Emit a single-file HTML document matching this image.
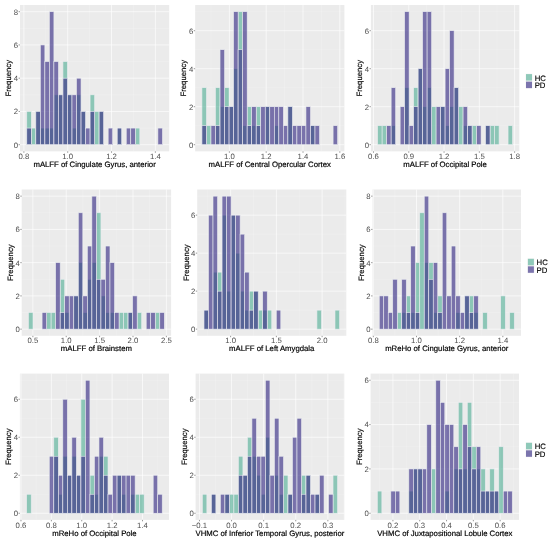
<!DOCTYPE html>
<html><head><meta charset="utf-8"><style>
html,body{margin:0;padding:0;background:#fff;}
svg{display:block;}
#w{width:550px;height:543px;}
text{font-family:"Liberation Sans",Arial,sans-serif;text-rendering:geometricPrecision;}
.tl{font-size:7.75px;fill:#4d4d4d;}
.tt{font-size:7.75px;fill:#000000;stroke:#000000;stroke-width:0.18px;}
.lg{font-size:7.75px;fill:#000;stroke:#000;stroke-width:0.15px;}
</style></head><body><div id="w">
<svg width="550" height="543" viewBox="0 0 550 543">
<rect width="550" height="543" fill="#fff"/>
<g>
<rect x="20" y="5.05" width="149.2" height="146.3" fill="#ebebeb"/>
<line x1="45.79" y1="5.05" x2="45.79" y2="151.35" stroke="#ffffff" stroke-width="0.3" stroke-opacity="0.6"/>
<line x1="89.62" y1="5.05" x2="89.62" y2="151.35" stroke="#ffffff" stroke-width="0.3" stroke-opacity="0.6"/>
<line x1="133.45" y1="5.05" x2="133.45" y2="151.35" stroke="#ffffff" stroke-width="0.3" stroke-opacity="0.6"/>
<line x1="20" y1="128.07" x2="169.2" y2="128.07" stroke="#ffffff" stroke-width="0.3" stroke-opacity="0.6"/>
<line x1="20" y1="94.83" x2="169.2" y2="94.83" stroke="#ffffff" stroke-width="0.3" stroke-opacity="0.6"/>
<line x1="20" y1="61.58" x2="169.2" y2="61.58" stroke="#ffffff" stroke-width="0.3" stroke-opacity="0.6"/>
<line x1="20" y1="28.33" x2="169.2" y2="28.33" stroke="#ffffff" stroke-width="0.3" stroke-opacity="0.6"/>
<line x1="20" y1="144.7" x2="169.2" y2="144.7" stroke="#ffffff" stroke-width="0.65"/>
<line x1="20" y1="111.45" x2="169.2" y2="111.45" stroke="#ffffff" stroke-width="0.65"/>
<line x1="20" y1="78.2" x2="169.2" y2="78.2" stroke="#ffffff" stroke-width="0.65"/>
<line x1="20" y1="44.95" x2="169.2" y2="44.95" stroke="#ffffff" stroke-width="0.65"/>
<line x1="20" y1="11.7" x2="169.2" y2="11.7" stroke="#ffffff" stroke-width="0.65"/>
<line x1="23.88" y1="5.05" x2="23.88" y2="151.35" stroke="#ffffff" stroke-width="0.65"/>
<line x1="67.71" y1="5.05" x2="67.71" y2="151.35" stroke="#ffffff" stroke-width="0.65"/>
<line x1="111.54" y1="5.05" x2="111.54" y2="151.35" stroke="#ffffff" stroke-width="0.65"/>
<line x1="155.37" y1="5.05" x2="155.37" y2="151.35" stroke="#ffffff" stroke-width="0.65"/>
<rect x="26.78" y="111.45" width="4.52" height="33.25" fill="#59b29a" fill-opacity="0.65" stroke="#e9ecef" stroke-width="0.6"/>
<rect x="31.3" y="128.07" width="4.52" height="16.62" fill="#59b29a" fill-opacity="0.65" stroke="#e9ecef" stroke-width="0.6"/>
<rect x="35.82" y="111.45" width="4.52" height="33.25" fill="#59b29a" fill-opacity="0.65" stroke="#e9ecef" stroke-width="0.6"/>
<rect x="40.35" y="128.07" width="4.52" height="16.62" fill="#59b29a" fill-opacity="0.65" stroke="#e9ecef" stroke-width="0.6"/>
<rect x="44.87" y="128.07" width="4.52" height="16.62" fill="#59b29a" fill-opacity="0.65" stroke="#e9ecef" stroke-width="0.6"/>
<rect x="49.39" y="128.07" width="4.52" height="16.62" fill="#59b29a" fill-opacity="0.65" stroke="#e9ecef" stroke-width="0.6"/>
<rect x="53.91" y="94.83" width="4.52" height="49.87" fill="#59b29a" fill-opacity="0.65" stroke="#e9ecef" stroke-width="0.6"/>
<rect x="58.43" y="94.83" width="4.52" height="49.87" fill="#59b29a" fill-opacity="0.65" stroke="#e9ecef" stroke-width="0.6"/>
<rect x="62.95" y="61.58" width="4.52" height="83.12" fill="#59b29a" fill-opacity="0.65" stroke="#e9ecef" stroke-width="0.6"/>
<rect x="67.47" y="94.83" width="4.52" height="49.87" fill="#59b29a" fill-opacity="0.65" stroke="#e9ecef" stroke-width="0.6"/>
<rect x="71.99" y="128.07" width="4.52" height="16.62" fill="#59b29a" fill-opacity="0.65" stroke="#e9ecef" stroke-width="0.6"/>
<rect x="76.52" y="94.83" width="4.52" height="49.87" fill="#59b29a" fill-opacity="0.65" stroke="#e9ecef" stroke-width="0.6"/>
<rect x="81.04" y="111.45" width="4.52" height="33.25" fill="#59b29a" fill-opacity="0.65" stroke="#e9ecef" stroke-width="0.6"/>
<rect x="90.08" y="94.83" width="4.52" height="49.87" fill="#59b29a" fill-opacity="0.65" stroke="#e9ecef" stroke-width="0.6"/>
<rect x="94.6" y="111.45" width="4.52" height="33.25" fill="#59b29a" fill-opacity="0.65" stroke="#e9ecef" stroke-width="0.6"/>
<rect x="99.12" y="111.45" width="4.52" height="33.25" fill="#59b29a" fill-opacity="0.65" stroke="#e9ecef" stroke-width="0.6"/>
<rect x="117.21" y="128.07" width="4.52" height="16.62" fill="#59b29a" fill-opacity="0.65" stroke="#e9ecef" stroke-width="0.6"/>
<rect x="135.29" y="128.07" width="4.52" height="16.62" fill="#59b29a" fill-opacity="0.65" stroke="#e9ecef" stroke-width="0.6"/>
<rect x="26.78" y="128.07" width="4.52" height="16.62" fill="#3a2f87" fill-opacity="0.65" stroke="#e9ecef" stroke-width="0.6"/>
<rect x="35.82" y="111.45" width="4.52" height="33.25" fill="#3a2f87" fill-opacity="0.65" stroke="#e9ecef" stroke-width="0.6"/>
<rect x="40.35" y="44.95" width="4.52" height="99.75" fill="#3a2f87" fill-opacity="0.65" stroke="#e9ecef" stroke-width="0.6"/>
<rect x="44.87" y="61.58" width="4.52" height="83.12" fill="#3a2f87" fill-opacity="0.65" stroke="#e9ecef" stroke-width="0.6"/>
<rect x="49.39" y="11.7" width="4.52" height="133" fill="#3a2f87" fill-opacity="0.65" stroke="#e9ecef" stroke-width="0.6"/>
<rect x="53.91" y="61.58" width="4.52" height="83.12" fill="#3a2f87" fill-opacity="0.65" stroke="#e9ecef" stroke-width="0.6"/>
<rect x="58.43" y="94.83" width="4.52" height="49.87" fill="#3a2f87" fill-opacity="0.65" stroke="#e9ecef" stroke-width="0.6"/>
<rect x="62.95" y="78.2" width="4.52" height="66.5" fill="#3a2f87" fill-opacity="0.65" stroke="#e9ecef" stroke-width="0.6"/>
<rect x="67.47" y="94.83" width="4.52" height="49.87" fill="#3a2f87" fill-opacity="0.65" stroke="#e9ecef" stroke-width="0.6"/>
<rect x="71.99" y="94.83" width="4.52" height="49.87" fill="#3a2f87" fill-opacity="0.65" stroke="#e9ecef" stroke-width="0.6"/>
<rect x="76.52" y="78.2" width="4.52" height="66.5" fill="#3a2f87" fill-opacity="0.65" stroke="#e9ecef" stroke-width="0.6"/>
<rect x="81.04" y="111.45" width="4.52" height="33.25" fill="#3a2f87" fill-opacity="0.65" stroke="#e9ecef" stroke-width="0.6"/>
<rect x="85.56" y="128.07" width="4.52" height="16.62" fill="#3a2f87" fill-opacity="0.65" stroke="#e9ecef" stroke-width="0.6"/>
<rect x="90.08" y="111.45" width="4.52" height="33.25" fill="#3a2f87" fill-opacity="0.65" stroke="#e9ecef" stroke-width="0.6"/>
<rect x="99.12" y="111.45" width="4.52" height="33.25" fill="#3a2f87" fill-opacity="0.65" stroke="#e9ecef" stroke-width="0.6"/>
<rect x="108.16" y="128.07" width="4.52" height="16.62" fill="#3a2f87" fill-opacity="0.65" stroke="#e9ecef" stroke-width="0.6"/>
<rect x="117.21" y="128.07" width="4.52" height="16.62" fill="#3a2f87" fill-opacity="0.65" stroke="#e9ecef" stroke-width="0.6"/>
<rect x="126.25" y="128.07" width="4.52" height="16.62" fill="#3a2f87" fill-opacity="0.65" stroke="#e9ecef" stroke-width="0.6"/>
<rect x="130.77" y="128.07" width="4.52" height="16.62" fill="#3a2f87" fill-opacity="0.65" stroke="#e9ecef" stroke-width="0.6"/>
<rect x="157.9" y="128.07" width="4.52" height="16.62" fill="#3a2f87" fill-opacity="0.65" stroke="#e9ecef" stroke-width="0.6"/>
<line x1="18.6" y1="144.7" x2="20" y2="144.7" stroke="#333333" stroke-width="0.5"/>
<text x="18.1" y="147.6" text-anchor="end" class="tl">0</text>
<line x1="18.6" y1="111.45" x2="20" y2="111.45" stroke="#333333" stroke-width="0.5"/>
<text x="18.1" y="114.35" text-anchor="end" class="tl">2</text>
<line x1="18.6" y1="78.2" x2="20" y2="78.2" stroke="#333333" stroke-width="0.5"/>
<text x="18.1" y="81.1" text-anchor="end" class="tl">4</text>
<line x1="18.6" y1="44.95" x2="20" y2="44.95" stroke="#333333" stroke-width="0.5"/>
<text x="18.1" y="47.85" text-anchor="end" class="tl">6</text>
<line x1="18.6" y1="11.7" x2="20" y2="11.7" stroke="#333333" stroke-width="0.5"/>
<text x="18.1" y="14.6" text-anchor="end" class="tl">8</text>
<line x1="23.88" y1="151.35" x2="23.88" y2="152.75" stroke="#333333" stroke-width="0.5"/>
<text x="23.88" y="158.8" text-anchor="middle" class="tl">0.8</text>
<line x1="67.71" y1="151.35" x2="67.71" y2="152.75" stroke="#333333" stroke-width="0.5"/>
<text x="67.71" y="158.8" text-anchor="middle" class="tl">1.0</text>
<line x1="111.54" y1="151.35" x2="111.54" y2="152.75" stroke="#333333" stroke-width="0.5"/>
<text x="111.54" y="158.8" text-anchor="middle" class="tl">1.2</text>
<line x1="155.37" y1="151.35" x2="155.37" y2="152.75" stroke="#333333" stroke-width="0.5"/>
<text x="155.37" y="158.8" text-anchor="middle" class="tl">1.4</text>
<text x="94.6" y="167.2" text-anchor="middle" class="tt">mALFF of Cingulate Gyrus, anterior</text>
<text transform="translate(11.3,78.2) rotate(-90)" text-anchor="middle" class="tt">Frequency</text>
</g>
<g>
<rect x="195.15" y="5.05" width="149.25" height="146.3" fill="#ebebeb"/>
<line x1="210.96" y1="5.05" x2="210.96" y2="151.35" stroke="#ffffff" stroke-width="0.3" stroke-opacity="0.6"/>
<line x1="247.78" y1="5.05" x2="247.78" y2="151.35" stroke="#ffffff" stroke-width="0.3" stroke-opacity="0.6"/>
<line x1="284.6" y1="5.05" x2="284.6" y2="151.35" stroke="#ffffff" stroke-width="0.3" stroke-opacity="0.6"/>
<line x1="321.42" y1="5.05" x2="321.42" y2="151.35" stroke="#ffffff" stroke-width="0.3" stroke-opacity="0.6"/>
<line x1="195.15" y1="125.7" x2="344.4" y2="125.7" stroke="#ffffff" stroke-width="0.3" stroke-opacity="0.6"/>
<line x1="195.15" y1="87.7" x2="344.4" y2="87.7" stroke="#ffffff" stroke-width="0.3" stroke-opacity="0.6"/>
<line x1="195.15" y1="49.7" x2="344.4" y2="49.7" stroke="#ffffff" stroke-width="0.3" stroke-opacity="0.6"/>
<line x1="195.15" y1="11.7" x2="344.4" y2="11.7" stroke="#ffffff" stroke-width="0.3" stroke-opacity="0.6"/>
<line x1="195.15" y1="144.7" x2="344.4" y2="144.7" stroke="#ffffff" stroke-width="0.65"/>
<line x1="195.15" y1="106.7" x2="344.4" y2="106.7" stroke="#ffffff" stroke-width="0.65"/>
<line x1="195.15" y1="68.7" x2="344.4" y2="68.7" stroke="#ffffff" stroke-width="0.65"/>
<line x1="195.15" y1="30.7" x2="344.4" y2="30.7" stroke="#ffffff" stroke-width="0.65"/>
<line x1="229.37" y1="5.05" x2="229.37" y2="151.35" stroke="#ffffff" stroke-width="0.65"/>
<line x1="266.19" y1="5.05" x2="266.19" y2="151.35" stroke="#ffffff" stroke-width="0.65"/>
<line x1="303.01" y1="5.05" x2="303.01" y2="151.35" stroke="#ffffff" stroke-width="0.65"/>
<line x1="339.83" y1="5.05" x2="339.83" y2="151.35" stroke="#ffffff" stroke-width="0.65"/>
<rect x="201.93" y="87.7" width="4.52" height="57" fill="#59b29a" fill-opacity="0.65" stroke="#e9ecef" stroke-width="0.6"/>
<rect x="206.46" y="125.7" width="4.52" height="19" fill="#59b29a" fill-opacity="0.65" stroke="#e9ecef" stroke-width="0.6"/>
<rect x="215.5" y="87.7" width="4.52" height="57" fill="#59b29a" fill-opacity="0.65" stroke="#e9ecef" stroke-width="0.6"/>
<rect x="220.03" y="106.7" width="4.52" height="38" fill="#59b29a" fill-opacity="0.65" stroke="#e9ecef" stroke-width="0.6"/>
<rect x="224.55" y="87.7" width="4.52" height="57" fill="#59b29a" fill-opacity="0.65" stroke="#e9ecef" stroke-width="0.6"/>
<rect x="229.07" y="106.7" width="4.52" height="38" fill="#59b29a" fill-opacity="0.65" stroke="#e9ecef" stroke-width="0.6"/>
<rect x="233.59" y="68.7" width="4.52" height="76" fill="#59b29a" fill-opacity="0.65" stroke="#e9ecef" stroke-width="0.6"/>
<rect x="238.12" y="11.7" width="4.52" height="133" fill="#59b29a" fill-opacity="0.65" stroke="#e9ecef" stroke-width="0.6"/>
<rect x="242.64" y="125.7" width="4.52" height="19" fill="#59b29a" fill-opacity="0.65" stroke="#e9ecef" stroke-width="0.6"/>
<rect x="247.16" y="106.7" width="4.52" height="38" fill="#59b29a" fill-opacity="0.65" stroke="#e9ecef" stroke-width="0.6"/>
<rect x="251.68" y="125.7" width="4.52" height="19" fill="#59b29a" fill-opacity="0.65" stroke="#e9ecef" stroke-width="0.6"/>
<rect x="256.21" y="106.7" width="4.52" height="38" fill="#59b29a" fill-opacity="0.65" stroke="#e9ecef" stroke-width="0.6"/>
<rect x="265.25" y="106.7" width="4.52" height="38" fill="#59b29a" fill-opacity="0.65" stroke="#e9ecef" stroke-width="0.6"/>
<rect x="274.3" y="125.7" width="4.52" height="19" fill="#59b29a" fill-opacity="0.65" stroke="#e9ecef" stroke-width="0.6"/>
<rect x="287.87" y="106.7" width="4.52" height="38" fill="#59b29a" fill-opacity="0.65" stroke="#e9ecef" stroke-width="0.6"/>
<rect x="310.48" y="125.7" width="4.52" height="19" fill="#59b29a" fill-opacity="0.65" stroke="#e9ecef" stroke-width="0.6"/>
<rect x="201.93" y="125.7" width="4.52" height="19" fill="#3a2f87" fill-opacity="0.65" stroke="#e9ecef" stroke-width="0.6"/>
<rect x="210.98" y="125.7" width="4.52" height="19" fill="#3a2f87" fill-opacity="0.65" stroke="#e9ecef" stroke-width="0.6"/>
<rect x="215.5" y="125.7" width="4.52" height="19" fill="#3a2f87" fill-opacity="0.65" stroke="#e9ecef" stroke-width="0.6"/>
<rect x="220.03" y="49.7" width="4.52" height="95" fill="#3a2f87" fill-opacity="0.65" stroke="#e9ecef" stroke-width="0.6"/>
<rect x="224.55" y="106.7" width="4.52" height="38" fill="#3a2f87" fill-opacity="0.65" stroke="#e9ecef" stroke-width="0.6"/>
<rect x="229.07" y="106.7" width="4.52" height="38" fill="#3a2f87" fill-opacity="0.65" stroke="#e9ecef" stroke-width="0.6"/>
<rect x="233.59" y="11.7" width="4.52" height="133" fill="#3a2f87" fill-opacity="0.65" stroke="#e9ecef" stroke-width="0.6"/>
<rect x="238.12" y="49.7" width="4.52" height="95" fill="#3a2f87" fill-opacity="0.65" stroke="#e9ecef" stroke-width="0.6"/>
<rect x="242.64" y="11.7" width="4.52" height="133" fill="#3a2f87" fill-opacity="0.65" stroke="#e9ecef" stroke-width="0.6"/>
<rect x="247.16" y="125.7" width="4.52" height="19" fill="#3a2f87" fill-opacity="0.65" stroke="#e9ecef" stroke-width="0.6"/>
<rect x="251.68" y="106.7" width="4.52" height="38" fill="#3a2f87" fill-opacity="0.65" stroke="#e9ecef" stroke-width="0.6"/>
<rect x="256.21" y="125.7" width="4.52" height="19" fill="#3a2f87" fill-opacity="0.65" stroke="#e9ecef" stroke-width="0.6"/>
<rect x="260.73" y="106.7" width="4.52" height="38" fill="#3a2f87" fill-opacity="0.65" stroke="#e9ecef" stroke-width="0.6"/>
<rect x="265.25" y="106.7" width="4.52" height="38" fill="#3a2f87" fill-opacity="0.65" stroke="#e9ecef" stroke-width="0.6"/>
<rect x="269.77" y="106.7" width="4.52" height="38" fill="#3a2f87" fill-opacity="0.65" stroke="#e9ecef" stroke-width="0.6"/>
<rect x="274.3" y="106.7" width="4.52" height="38" fill="#3a2f87" fill-opacity="0.65" stroke="#e9ecef" stroke-width="0.6"/>
<rect x="278.82" y="106.7" width="4.52" height="38" fill="#3a2f87" fill-opacity="0.65" stroke="#e9ecef" stroke-width="0.6"/>
<rect x="283.34" y="125.7" width="4.52" height="19" fill="#3a2f87" fill-opacity="0.65" stroke="#e9ecef" stroke-width="0.6"/>
<rect x="287.87" y="106.7" width="4.52" height="38" fill="#3a2f87" fill-opacity="0.65" stroke="#e9ecef" stroke-width="0.6"/>
<rect x="292.39" y="125.7" width="4.52" height="19" fill="#3a2f87" fill-opacity="0.65" stroke="#e9ecef" stroke-width="0.6"/>
<rect x="296.91" y="125.7" width="4.52" height="19" fill="#3a2f87" fill-opacity="0.65" stroke="#e9ecef" stroke-width="0.6"/>
<rect x="301.43" y="125.7" width="4.52" height="19" fill="#3a2f87" fill-opacity="0.65" stroke="#e9ecef" stroke-width="0.6"/>
<rect x="305.96" y="106.7" width="4.52" height="38" fill="#3a2f87" fill-opacity="0.65" stroke="#e9ecef" stroke-width="0.6"/>
<rect x="310.48" y="125.7" width="4.52" height="19" fill="#3a2f87" fill-opacity="0.65" stroke="#e9ecef" stroke-width="0.6"/>
<rect x="315" y="125.7" width="4.52" height="19" fill="#3a2f87" fill-opacity="0.65" stroke="#e9ecef" stroke-width="0.6"/>
<rect x="333.09" y="125.7" width="4.52" height="19" fill="#3a2f87" fill-opacity="0.65" stroke="#e9ecef" stroke-width="0.6"/>
<line x1="193.75" y1="144.7" x2="195.15" y2="144.7" stroke="#333333" stroke-width="0.5"/>
<text x="193.25" y="147.6" text-anchor="end" class="tl">0</text>
<line x1="193.75" y1="106.7" x2="195.15" y2="106.7" stroke="#333333" stroke-width="0.5"/>
<text x="193.25" y="109.6" text-anchor="end" class="tl">2</text>
<line x1="193.75" y1="68.7" x2="195.15" y2="68.7" stroke="#333333" stroke-width="0.5"/>
<text x="193.25" y="71.6" text-anchor="end" class="tl">4</text>
<line x1="193.75" y1="30.7" x2="195.15" y2="30.7" stroke="#333333" stroke-width="0.5"/>
<text x="193.25" y="33.6" text-anchor="end" class="tl">6</text>
<line x1="229.37" y1="151.35" x2="229.37" y2="152.75" stroke="#333333" stroke-width="0.5"/>
<text x="229.37" y="158.8" text-anchor="middle" class="tl">1.0</text>
<line x1="266.19" y1="151.35" x2="266.19" y2="152.75" stroke="#333333" stroke-width="0.5"/>
<text x="266.19" y="158.8" text-anchor="middle" class="tl">1.2</text>
<line x1="303.01" y1="151.35" x2="303.01" y2="152.75" stroke="#333333" stroke-width="0.5"/>
<text x="303.01" y="158.8" text-anchor="middle" class="tl">1.4</text>
<line x1="339.83" y1="151.35" x2="339.83" y2="152.75" stroke="#333333" stroke-width="0.5"/>
<text x="339.83" y="158.8" text-anchor="middle" class="tl">1.6</text>
<text x="269.77" y="167.2" text-anchor="middle" class="tt">mALFF of Central Opercular Cortex</text>
<text transform="translate(186.45,78.2) rotate(-90)" text-anchor="middle" class="tt">Frequency</text>
</g>
<g>
<rect x="370.9" y="5.05" width="148.4" height="146.3" fill="#ebebeb"/>
<line x1="391.13" y1="5.05" x2="391.13" y2="151.35" stroke="#ffffff" stroke-width="0.3" stroke-opacity="0.6"/>
<line x1="426.41" y1="5.05" x2="426.41" y2="151.35" stroke="#ffffff" stroke-width="0.3" stroke-opacity="0.6"/>
<line x1="461.69" y1="5.05" x2="461.69" y2="151.35" stroke="#ffffff" stroke-width="0.3" stroke-opacity="0.6"/>
<line x1="496.97" y1="5.05" x2="496.97" y2="151.35" stroke="#ffffff" stroke-width="0.3" stroke-opacity="0.6"/>
<line x1="370.9" y1="125.7" x2="519.3" y2="125.7" stroke="#ffffff" stroke-width="0.3" stroke-opacity="0.6"/>
<line x1="370.9" y1="87.7" x2="519.3" y2="87.7" stroke="#ffffff" stroke-width="0.3" stroke-opacity="0.6"/>
<line x1="370.9" y1="49.7" x2="519.3" y2="49.7" stroke="#ffffff" stroke-width="0.3" stroke-opacity="0.6"/>
<line x1="370.9" y1="11.7" x2="519.3" y2="11.7" stroke="#ffffff" stroke-width="0.3" stroke-opacity="0.6"/>
<line x1="370.9" y1="144.7" x2="519.3" y2="144.7" stroke="#ffffff" stroke-width="0.65"/>
<line x1="370.9" y1="106.7" x2="519.3" y2="106.7" stroke="#ffffff" stroke-width="0.65"/>
<line x1="370.9" y1="68.7" x2="519.3" y2="68.7" stroke="#ffffff" stroke-width="0.65"/>
<line x1="370.9" y1="30.7" x2="519.3" y2="30.7" stroke="#ffffff" stroke-width="0.65"/>
<line x1="373.49" y1="5.05" x2="373.49" y2="151.35" stroke="#ffffff" stroke-width="0.65"/>
<line x1="408.77" y1="5.05" x2="408.77" y2="151.35" stroke="#ffffff" stroke-width="0.65"/>
<line x1="444.05" y1="5.05" x2="444.05" y2="151.35" stroke="#ffffff" stroke-width="0.65"/>
<line x1="479.33" y1="5.05" x2="479.33" y2="151.35" stroke="#ffffff" stroke-width="0.65"/>
<line x1="514.61" y1="5.05" x2="514.61" y2="151.35" stroke="#ffffff" stroke-width="0.65"/>
<rect x="377.65" y="125.7" width="4.5" height="19" fill="#59b29a" fill-opacity="0.65" stroke="#e9ecef" stroke-width="0.6"/>
<rect x="382.14" y="125.7" width="4.5" height="19" fill="#59b29a" fill-opacity="0.65" stroke="#e9ecef" stroke-width="0.6"/>
<rect x="391.14" y="125.7" width="4.5" height="19" fill="#59b29a" fill-opacity="0.65" stroke="#e9ecef" stroke-width="0.6"/>
<rect x="404.63" y="87.7" width="4.5" height="57" fill="#59b29a" fill-opacity="0.65" stroke="#e9ecef" stroke-width="0.6"/>
<rect x="413.62" y="87.7" width="4.5" height="57" fill="#59b29a" fill-opacity="0.65" stroke="#e9ecef" stroke-width="0.6"/>
<rect x="418.12" y="68.7" width="4.5" height="76" fill="#59b29a" fill-opacity="0.65" stroke="#e9ecef" stroke-width="0.6"/>
<rect x="422.62" y="106.7" width="4.5" height="38" fill="#59b29a" fill-opacity="0.65" stroke="#e9ecef" stroke-width="0.6"/>
<rect x="427.11" y="87.7" width="4.5" height="57" fill="#59b29a" fill-opacity="0.65" stroke="#e9ecef" stroke-width="0.6"/>
<rect x="431.61" y="106.7" width="4.5" height="38" fill="#59b29a" fill-opacity="0.65" stroke="#e9ecef" stroke-width="0.6"/>
<rect x="440.6" y="106.7" width="4.5" height="38" fill="#59b29a" fill-opacity="0.65" stroke="#e9ecef" stroke-width="0.6"/>
<rect x="445.1" y="125.7" width="4.5" height="19" fill="#59b29a" fill-opacity="0.65" stroke="#e9ecef" stroke-width="0.6"/>
<rect x="449.6" y="106.7" width="4.5" height="38" fill="#59b29a" fill-opacity="0.65" stroke="#e9ecef" stroke-width="0.6"/>
<rect x="454.09" y="87.7" width="4.5" height="57" fill="#59b29a" fill-opacity="0.65" stroke="#e9ecef" stroke-width="0.6"/>
<rect x="458.59" y="106.7" width="4.5" height="38" fill="#59b29a" fill-opacity="0.65" stroke="#e9ecef" stroke-width="0.6"/>
<rect x="463.09" y="125.7" width="4.5" height="19" fill="#59b29a" fill-opacity="0.65" stroke="#e9ecef" stroke-width="0.6"/>
<rect x="467.58" y="125.7" width="4.5" height="19" fill="#59b29a" fill-opacity="0.65" stroke="#e9ecef" stroke-width="0.6"/>
<rect x="472.08" y="125.7" width="4.5" height="19" fill="#59b29a" fill-opacity="0.65" stroke="#e9ecef" stroke-width="0.6"/>
<rect x="485.57" y="125.7" width="4.5" height="19" fill="#59b29a" fill-opacity="0.65" stroke="#e9ecef" stroke-width="0.6"/>
<rect x="490.07" y="125.7" width="4.5" height="19" fill="#59b29a" fill-opacity="0.65" stroke="#e9ecef" stroke-width="0.6"/>
<rect x="494.57" y="125.7" width="4.5" height="19" fill="#59b29a" fill-opacity="0.65" stroke="#e9ecef" stroke-width="0.6"/>
<rect x="508.06" y="125.7" width="4.5" height="19" fill="#59b29a" fill-opacity="0.65" stroke="#e9ecef" stroke-width="0.6"/>
<rect x="386.64" y="125.7" width="4.5" height="19" fill="#3a2f87" fill-opacity="0.65" stroke="#e9ecef" stroke-width="0.6"/>
<rect x="391.14" y="87.7" width="4.5" height="57" fill="#3a2f87" fill-opacity="0.65" stroke="#e9ecef" stroke-width="0.6"/>
<rect x="400.13" y="106.7" width="4.5" height="38" fill="#3a2f87" fill-opacity="0.65" stroke="#e9ecef" stroke-width="0.6"/>
<rect x="404.63" y="11.7" width="4.5" height="133" fill="#3a2f87" fill-opacity="0.65" stroke="#e9ecef" stroke-width="0.6"/>
<rect x="409.12" y="125.7" width="4.5" height="19" fill="#3a2f87" fill-opacity="0.65" stroke="#e9ecef" stroke-width="0.6"/>
<rect x="413.62" y="106.7" width="4.5" height="38" fill="#3a2f87" fill-opacity="0.65" stroke="#e9ecef" stroke-width="0.6"/>
<rect x="418.12" y="68.7" width="4.5" height="76" fill="#3a2f87" fill-opacity="0.65" stroke="#e9ecef" stroke-width="0.6"/>
<rect x="422.62" y="11.7" width="4.5" height="133" fill="#3a2f87" fill-opacity="0.65" stroke="#e9ecef" stroke-width="0.6"/>
<rect x="427.11" y="11.7" width="4.5" height="133" fill="#3a2f87" fill-opacity="0.65" stroke="#e9ecef" stroke-width="0.6"/>
<rect x="436.11" y="106.7" width="4.5" height="38" fill="#3a2f87" fill-opacity="0.65" stroke="#e9ecef" stroke-width="0.6"/>
<rect x="440.6" y="106.7" width="4.5" height="38" fill="#3a2f87" fill-opacity="0.65" stroke="#e9ecef" stroke-width="0.6"/>
<rect x="445.1" y="68.7" width="4.5" height="76" fill="#3a2f87" fill-opacity="0.65" stroke="#e9ecef" stroke-width="0.6"/>
<rect x="449.6" y="30.7" width="4.5" height="114" fill="#3a2f87" fill-opacity="0.65" stroke="#e9ecef" stroke-width="0.6"/>
<rect x="454.09" y="87.7" width="4.5" height="57" fill="#3a2f87" fill-opacity="0.65" stroke="#e9ecef" stroke-width="0.6"/>
<rect x="463.09" y="106.7" width="4.5" height="38" fill="#3a2f87" fill-opacity="0.65" stroke="#e9ecef" stroke-width="0.6"/>
<rect x="467.58" y="125.7" width="4.5" height="19" fill="#3a2f87" fill-opacity="0.65" stroke="#e9ecef" stroke-width="0.6"/>
<rect x="476.58" y="125.7" width="4.5" height="19" fill="#3a2f87" fill-opacity="0.65" stroke="#e9ecef" stroke-width="0.6"/>
<rect x="485.57" y="125.7" width="4.5" height="19" fill="#3a2f87" fill-opacity="0.65" stroke="#e9ecef" stroke-width="0.6"/>
<line x1="369.5" y1="144.7" x2="370.9" y2="144.7" stroke="#333333" stroke-width="0.5"/>
<text x="369" y="147.6" text-anchor="end" class="tl">0</text>
<line x1="369.5" y1="106.7" x2="370.9" y2="106.7" stroke="#333333" stroke-width="0.5"/>
<text x="369" y="109.6" text-anchor="end" class="tl">2</text>
<line x1="369.5" y1="68.7" x2="370.9" y2="68.7" stroke="#333333" stroke-width="0.5"/>
<text x="369" y="71.6" text-anchor="end" class="tl">4</text>
<line x1="369.5" y1="30.7" x2="370.9" y2="30.7" stroke="#333333" stroke-width="0.5"/>
<text x="369" y="33.6" text-anchor="end" class="tl">6</text>
<line x1="373.49" y1="151.35" x2="373.49" y2="152.75" stroke="#333333" stroke-width="0.5"/>
<text x="373.49" y="158.8" text-anchor="middle" class="tl">0.6</text>
<line x1="408.77" y1="151.35" x2="408.77" y2="152.75" stroke="#333333" stroke-width="0.5"/>
<text x="408.77" y="158.8" text-anchor="middle" class="tl">0.9</text>
<line x1="444.05" y1="151.35" x2="444.05" y2="152.75" stroke="#333333" stroke-width="0.5"/>
<text x="444.05" y="158.8" text-anchor="middle" class="tl">1.2</text>
<line x1="479.33" y1="151.35" x2="479.33" y2="152.75" stroke="#333333" stroke-width="0.5"/>
<text x="479.33" y="158.8" text-anchor="middle" class="tl">1.5</text>
<line x1="514.61" y1="151.35" x2="514.61" y2="152.75" stroke="#333333" stroke-width="0.5"/>
<text x="514.61" y="158.8" text-anchor="middle" class="tl">1.8</text>
<text x="445.1" y="167.2" text-anchor="middle" class="tt">mALFF of Occipital Pole</text>
<text transform="translate(362.2,78.2) rotate(-90)" text-anchor="middle" class="tt">Frequency</text>
</g>
<g>
<rect x="21.7" y="189.5" width="149.4" height="146.3" fill="#ebebeb"/>
<line x1="49.55" y1="189.5" x2="49.55" y2="335.8" stroke="#ffffff" stroke-width="0.3" stroke-opacity="0.6"/>
<line x1="82.92" y1="189.5" x2="82.92" y2="335.8" stroke="#ffffff" stroke-width="0.3" stroke-opacity="0.6"/>
<line x1="116.3" y1="189.5" x2="116.3" y2="335.8" stroke="#ffffff" stroke-width="0.3" stroke-opacity="0.6"/>
<line x1="149.67" y1="189.5" x2="149.67" y2="335.8" stroke="#ffffff" stroke-width="0.3" stroke-opacity="0.6"/>
<line x1="21.7" y1="312.53" x2="171.1" y2="312.53" stroke="#ffffff" stroke-width="0.3" stroke-opacity="0.6"/>
<line x1="21.7" y1="279.28" x2="171.1" y2="279.28" stroke="#ffffff" stroke-width="0.3" stroke-opacity="0.6"/>
<line x1="21.7" y1="246.03" x2="171.1" y2="246.03" stroke="#ffffff" stroke-width="0.3" stroke-opacity="0.6"/>
<line x1="21.7" y1="212.78" x2="171.1" y2="212.78" stroke="#ffffff" stroke-width="0.3" stroke-opacity="0.6"/>
<line x1="21.7" y1="329.15" x2="171.1" y2="329.15" stroke="#ffffff" stroke-width="0.65"/>
<line x1="21.7" y1="295.9" x2="171.1" y2="295.9" stroke="#ffffff" stroke-width="0.65"/>
<line x1="21.7" y1="262.65" x2="171.1" y2="262.65" stroke="#ffffff" stroke-width="0.65"/>
<line x1="21.7" y1="229.4" x2="171.1" y2="229.4" stroke="#ffffff" stroke-width="0.65"/>
<line x1="21.7" y1="196.15" x2="171.1" y2="196.15" stroke="#ffffff" stroke-width="0.65"/>
<line x1="32.86" y1="189.5" x2="32.86" y2="335.8" stroke="#ffffff" stroke-width="0.65"/>
<line x1="66.23" y1="189.5" x2="66.23" y2="335.8" stroke="#ffffff" stroke-width="0.65"/>
<line x1="99.61" y1="189.5" x2="99.61" y2="335.8" stroke="#ffffff" stroke-width="0.65"/>
<line x1="132.99" y1="189.5" x2="132.99" y2="335.8" stroke="#ffffff" stroke-width="0.65"/>
<line x1="166.36" y1="189.5" x2="166.36" y2="335.8" stroke="#ffffff" stroke-width="0.65"/>
<rect x="28.49" y="312.53" width="4.53" height="16.62" fill="#59b29a" fill-opacity="0.65" stroke="#e9ecef" stroke-width="0.6"/>
<rect x="46.6" y="312.53" width="4.53" height="16.62" fill="#59b29a" fill-opacity="0.65" stroke="#e9ecef" stroke-width="0.6"/>
<rect x="51.13" y="312.53" width="4.53" height="16.62" fill="#59b29a" fill-opacity="0.65" stroke="#e9ecef" stroke-width="0.6"/>
<rect x="60.18" y="279.28" width="4.53" height="49.88" fill="#59b29a" fill-opacity="0.65" stroke="#e9ecef" stroke-width="0.6"/>
<rect x="64.71" y="312.53" width="4.53" height="16.62" fill="#59b29a" fill-opacity="0.65" stroke="#e9ecef" stroke-width="0.6"/>
<rect x="73.76" y="295.9" width="4.53" height="33.25" fill="#59b29a" fill-opacity="0.65" stroke="#e9ecef" stroke-width="0.6"/>
<rect x="78.29" y="262.65" width="4.53" height="66.5" fill="#59b29a" fill-opacity="0.65" stroke="#e9ecef" stroke-width="0.6"/>
<rect x="82.82" y="312.53" width="4.53" height="16.62" fill="#59b29a" fill-opacity="0.65" stroke="#e9ecef" stroke-width="0.6"/>
<rect x="87.35" y="279.28" width="4.53" height="49.88" fill="#59b29a" fill-opacity="0.65" stroke="#e9ecef" stroke-width="0.6"/>
<rect x="91.87" y="262.65" width="4.53" height="66.5" fill="#59b29a" fill-opacity="0.65" stroke="#e9ecef" stroke-width="0.6"/>
<rect x="96.4" y="212.78" width="4.53" height="116.38" fill="#59b29a" fill-opacity="0.65" stroke="#e9ecef" stroke-width="0.6"/>
<rect x="100.93" y="295.9" width="4.53" height="33.25" fill="#59b29a" fill-opacity="0.65" stroke="#e9ecef" stroke-width="0.6"/>
<rect x="105.45" y="312.53" width="4.53" height="16.62" fill="#59b29a" fill-opacity="0.65" stroke="#e9ecef" stroke-width="0.6"/>
<rect x="109.98" y="312.53" width="4.53" height="16.62" fill="#59b29a" fill-opacity="0.65" stroke="#e9ecef" stroke-width="0.6"/>
<rect x="119.04" y="312.53" width="4.53" height="16.62" fill="#59b29a" fill-opacity="0.65" stroke="#e9ecef" stroke-width="0.6"/>
<rect x="123.56" y="312.53" width="4.53" height="16.62" fill="#59b29a" fill-opacity="0.65" stroke="#e9ecef" stroke-width="0.6"/>
<rect x="128.09" y="312.53" width="4.53" height="16.62" fill="#59b29a" fill-opacity="0.65" stroke="#e9ecef" stroke-width="0.6"/>
<rect x="137.15" y="312.53" width="4.53" height="16.62" fill="#59b29a" fill-opacity="0.65" stroke="#e9ecef" stroke-width="0.6"/>
<rect x="155.25" y="312.53" width="4.53" height="16.62" fill="#59b29a" fill-opacity="0.65" stroke="#e9ecef" stroke-width="0.6"/>
<rect x="42.07" y="312.53" width="4.53" height="16.62" fill="#3a2f87" fill-opacity="0.65" stroke="#e9ecef" stroke-width="0.6"/>
<rect x="55.65" y="262.65" width="4.53" height="66.5" fill="#3a2f87" fill-opacity="0.65" stroke="#e9ecef" stroke-width="0.6"/>
<rect x="60.18" y="312.53" width="4.53" height="16.62" fill="#3a2f87" fill-opacity="0.65" stroke="#e9ecef" stroke-width="0.6"/>
<rect x="64.71" y="295.9" width="4.53" height="33.25" fill="#3a2f87" fill-opacity="0.65" stroke="#e9ecef" stroke-width="0.6"/>
<rect x="69.24" y="295.9" width="4.53" height="33.25" fill="#3a2f87" fill-opacity="0.65" stroke="#e9ecef" stroke-width="0.6"/>
<rect x="73.76" y="295.9" width="4.53" height="33.25" fill="#3a2f87" fill-opacity="0.65" stroke="#e9ecef" stroke-width="0.6"/>
<rect x="78.29" y="212.78" width="4.53" height="116.38" fill="#3a2f87" fill-opacity="0.65" stroke="#e9ecef" stroke-width="0.6"/>
<rect x="82.82" y="295.9" width="4.53" height="33.25" fill="#3a2f87" fill-opacity="0.65" stroke="#e9ecef" stroke-width="0.6"/>
<rect x="87.35" y="246.03" width="4.53" height="83.12" fill="#3a2f87" fill-opacity="0.65" stroke="#e9ecef" stroke-width="0.6"/>
<rect x="91.87" y="196.15" width="4.53" height="133" fill="#3a2f87" fill-opacity="0.65" stroke="#e9ecef" stroke-width="0.6"/>
<rect x="96.4" y="279.28" width="4.53" height="49.88" fill="#3a2f87" fill-opacity="0.65" stroke="#e9ecef" stroke-width="0.6"/>
<rect x="100.93" y="279.28" width="4.53" height="49.88" fill="#3a2f87" fill-opacity="0.65" stroke="#e9ecef" stroke-width="0.6"/>
<rect x="105.45" y="246.03" width="4.53" height="83.12" fill="#3a2f87" fill-opacity="0.65" stroke="#e9ecef" stroke-width="0.6"/>
<rect x="109.98" y="262.65" width="4.53" height="66.5" fill="#3a2f87" fill-opacity="0.65" stroke="#e9ecef" stroke-width="0.6"/>
<rect x="114.51" y="312.53" width="4.53" height="16.62" fill="#3a2f87" fill-opacity="0.65" stroke="#e9ecef" stroke-width="0.6"/>
<rect x="128.09" y="312.53" width="4.53" height="16.62" fill="#3a2f87" fill-opacity="0.65" stroke="#e9ecef" stroke-width="0.6"/>
<rect x="132.62" y="295.9" width="4.53" height="33.25" fill="#3a2f87" fill-opacity="0.65" stroke="#e9ecef" stroke-width="0.6"/>
<rect x="146.2" y="312.53" width="4.53" height="16.62" fill="#3a2f87" fill-opacity="0.65" stroke="#e9ecef" stroke-width="0.6"/>
<rect x="150.73" y="312.53" width="4.53" height="16.62" fill="#3a2f87" fill-opacity="0.65" stroke="#e9ecef" stroke-width="0.6"/>
<rect x="159.78" y="312.53" width="4.53" height="16.62" fill="#3a2f87" fill-opacity="0.65" stroke="#e9ecef" stroke-width="0.6"/>
<line x1="20.3" y1="329.15" x2="21.7" y2="329.15" stroke="#333333" stroke-width="0.5"/>
<text x="19.8" y="332.05" text-anchor="end" class="tl">0</text>
<line x1="20.3" y1="295.9" x2="21.7" y2="295.9" stroke="#333333" stroke-width="0.5"/>
<text x="19.8" y="298.8" text-anchor="end" class="tl">2</text>
<line x1="20.3" y1="262.65" x2="21.7" y2="262.65" stroke="#333333" stroke-width="0.5"/>
<text x="19.8" y="265.55" text-anchor="end" class="tl">4</text>
<line x1="20.3" y1="229.4" x2="21.7" y2="229.4" stroke="#333333" stroke-width="0.5"/>
<text x="19.8" y="232.3" text-anchor="end" class="tl">6</text>
<line x1="20.3" y1="196.15" x2="21.7" y2="196.15" stroke="#333333" stroke-width="0.5"/>
<text x="19.8" y="199.05" text-anchor="end" class="tl">8</text>
<line x1="32.86" y1="335.8" x2="32.86" y2="337.2" stroke="#333333" stroke-width="0.5"/>
<text x="32.86" y="342.9" text-anchor="middle" class="tl">0.5</text>
<line x1="66.23" y1="335.8" x2="66.23" y2="337.2" stroke="#333333" stroke-width="0.5"/>
<text x="66.23" y="342.9" text-anchor="middle" class="tl">1.0</text>
<line x1="99.61" y1="335.8" x2="99.61" y2="337.2" stroke="#333333" stroke-width="0.5"/>
<text x="99.61" y="342.9" text-anchor="middle" class="tl">1.5</text>
<line x1="132.99" y1="335.8" x2="132.99" y2="337.2" stroke="#333333" stroke-width="0.5"/>
<text x="132.99" y="342.9" text-anchor="middle" class="tl">2.0</text>
<line x1="166.36" y1="335.8" x2="166.36" y2="337.2" stroke="#333333" stroke-width="0.5"/>
<text x="166.36" y="342.9" text-anchor="middle" class="tl">2.5</text>
<text x="96.4" y="351.45" text-anchor="middle" class="tt">mALFF of Brainstem</text>
<text transform="translate(13,262.65) rotate(-90)" text-anchor="middle" class="tt">Frequency</text>
</g>
<g>
<rect x="197.2" y="189.5" width="149.1" height="146.3" fill="#ebebeb"/>
<line x1="207.74" y1="189.5" x2="207.74" y2="335.8" stroke="#ffffff" stroke-width="0.3" stroke-opacity="0.6"/>
<line x1="253.49" y1="189.5" x2="253.49" y2="335.8" stroke="#ffffff" stroke-width="0.3" stroke-opacity="0.6"/>
<line x1="299.24" y1="189.5" x2="299.24" y2="335.8" stroke="#ffffff" stroke-width="0.3" stroke-opacity="0.6"/>
<line x1="344.99" y1="189.5" x2="344.99" y2="335.8" stroke="#ffffff" stroke-width="0.3" stroke-opacity="0.6"/>
<line x1="197.2" y1="310.15" x2="346.3" y2="310.15" stroke="#ffffff" stroke-width="0.3" stroke-opacity="0.6"/>
<line x1="197.2" y1="272.15" x2="346.3" y2="272.15" stroke="#ffffff" stroke-width="0.3" stroke-opacity="0.6"/>
<line x1="197.2" y1="234.15" x2="346.3" y2="234.15" stroke="#ffffff" stroke-width="0.3" stroke-opacity="0.6"/>
<line x1="197.2" y1="196.15" x2="346.3" y2="196.15" stroke="#ffffff" stroke-width="0.3" stroke-opacity="0.6"/>
<line x1="197.2" y1="329.15" x2="346.3" y2="329.15" stroke="#ffffff" stroke-width="0.65"/>
<line x1="197.2" y1="291.15" x2="346.3" y2="291.15" stroke="#ffffff" stroke-width="0.65"/>
<line x1="197.2" y1="253.15" x2="346.3" y2="253.15" stroke="#ffffff" stroke-width="0.65"/>
<line x1="197.2" y1="215.15" x2="346.3" y2="215.15" stroke="#ffffff" stroke-width="0.65"/>
<line x1="230.62" y1="189.5" x2="230.62" y2="335.8" stroke="#ffffff" stroke-width="0.65"/>
<line x1="276.37" y1="189.5" x2="276.37" y2="335.8" stroke="#ffffff" stroke-width="0.65"/>
<line x1="322.12" y1="189.5" x2="322.12" y2="335.8" stroke="#ffffff" stroke-width="0.65"/>
<rect x="203.98" y="310.15" width="4.52" height="19" fill="#59b29a" fill-opacity="0.65" stroke="#e9ecef" stroke-width="0.6"/>
<rect x="213.01" y="272.15" width="4.52" height="57" fill="#59b29a" fill-opacity="0.65" stroke="#e9ecef" stroke-width="0.6"/>
<rect x="217.53" y="272.15" width="4.52" height="57" fill="#59b29a" fill-opacity="0.65" stroke="#e9ecef" stroke-width="0.6"/>
<rect x="222.05" y="215.15" width="4.52" height="114" fill="#59b29a" fill-opacity="0.65" stroke="#e9ecef" stroke-width="0.6"/>
<rect x="226.57" y="291.15" width="4.52" height="38" fill="#59b29a" fill-opacity="0.65" stroke="#e9ecef" stroke-width="0.6"/>
<rect x="231.09" y="215.15" width="4.52" height="114" fill="#59b29a" fill-opacity="0.65" stroke="#e9ecef" stroke-width="0.6"/>
<rect x="235.6" y="253.15" width="4.52" height="76" fill="#59b29a" fill-opacity="0.65" stroke="#e9ecef" stroke-width="0.6"/>
<rect x="240.12" y="291.15" width="4.52" height="38" fill="#59b29a" fill-opacity="0.65" stroke="#e9ecef" stroke-width="0.6"/>
<rect x="244.64" y="310.15" width="4.52" height="19" fill="#59b29a" fill-opacity="0.65" stroke="#e9ecef" stroke-width="0.6"/>
<rect x="249.16" y="291.15" width="4.52" height="38" fill="#59b29a" fill-opacity="0.65" stroke="#e9ecef" stroke-width="0.6"/>
<rect x="253.68" y="291.15" width="4.52" height="38" fill="#59b29a" fill-opacity="0.65" stroke="#e9ecef" stroke-width="0.6"/>
<rect x="258.2" y="310.15" width="4.52" height="19" fill="#59b29a" fill-opacity="0.65" stroke="#e9ecef" stroke-width="0.6"/>
<rect x="262.71" y="310.15" width="4.52" height="19" fill="#59b29a" fill-opacity="0.65" stroke="#e9ecef" stroke-width="0.6"/>
<rect x="267.23" y="310.15" width="4.52" height="19" fill="#59b29a" fill-opacity="0.65" stroke="#e9ecef" stroke-width="0.6"/>
<rect x="316.93" y="310.15" width="4.52" height="19" fill="#59b29a" fill-opacity="0.65" stroke="#e9ecef" stroke-width="0.6"/>
<rect x="335" y="310.15" width="4.52" height="19" fill="#59b29a" fill-opacity="0.65" stroke="#e9ecef" stroke-width="0.6"/>
<rect x="203.98" y="310.15" width="4.52" height="19" fill="#3a2f87" fill-opacity="0.65" stroke="#e9ecef" stroke-width="0.6"/>
<rect x="208.5" y="215.15" width="4.52" height="114" fill="#3a2f87" fill-opacity="0.65" stroke="#e9ecef" stroke-width="0.6"/>
<rect x="213.01" y="196.15" width="4.52" height="133" fill="#3a2f87" fill-opacity="0.65" stroke="#e9ecef" stroke-width="0.6"/>
<rect x="217.53" y="291.15" width="4.52" height="38" fill="#3a2f87" fill-opacity="0.65" stroke="#e9ecef" stroke-width="0.6"/>
<rect x="222.05" y="196.15" width="4.52" height="133" fill="#3a2f87" fill-opacity="0.65" stroke="#e9ecef" stroke-width="0.6"/>
<rect x="226.57" y="196.15" width="4.52" height="133" fill="#3a2f87" fill-opacity="0.65" stroke="#e9ecef" stroke-width="0.6"/>
<rect x="231.09" y="215.15" width="4.52" height="114" fill="#3a2f87" fill-opacity="0.65" stroke="#e9ecef" stroke-width="0.6"/>
<rect x="235.6" y="215.15" width="4.52" height="114" fill="#3a2f87" fill-opacity="0.65" stroke="#e9ecef" stroke-width="0.6"/>
<rect x="240.12" y="234.15" width="4.52" height="95" fill="#3a2f87" fill-opacity="0.65" stroke="#e9ecef" stroke-width="0.6"/>
<rect x="244.64" y="272.15" width="4.52" height="57" fill="#3a2f87" fill-opacity="0.65" stroke="#e9ecef" stroke-width="0.6"/>
<rect x="249.16" y="310.15" width="4.52" height="19" fill="#3a2f87" fill-opacity="0.65" stroke="#e9ecef" stroke-width="0.6"/>
<rect x="253.68" y="291.15" width="4.52" height="38" fill="#3a2f87" fill-opacity="0.65" stroke="#e9ecef" stroke-width="0.6"/>
<rect x="262.71" y="291.15" width="4.52" height="38" fill="#3a2f87" fill-opacity="0.65" stroke="#e9ecef" stroke-width="0.6"/>
<rect x="276.27" y="310.15" width="4.52" height="19" fill="#3a2f87" fill-opacity="0.65" stroke="#e9ecef" stroke-width="0.6"/>
<line x1="195.8" y1="329.15" x2="197.2" y2="329.15" stroke="#333333" stroke-width="0.5"/>
<text x="195.3" y="332.05" text-anchor="end" class="tl">0</text>
<line x1="195.8" y1="291.15" x2="197.2" y2="291.15" stroke="#333333" stroke-width="0.5"/>
<text x="195.3" y="294.05" text-anchor="end" class="tl">2</text>
<line x1="195.8" y1="253.15" x2="197.2" y2="253.15" stroke="#333333" stroke-width="0.5"/>
<text x="195.3" y="256.05" text-anchor="end" class="tl">4</text>
<line x1="195.8" y1="215.15" x2="197.2" y2="215.15" stroke="#333333" stroke-width="0.5"/>
<text x="195.3" y="218.05" text-anchor="end" class="tl">6</text>
<line x1="230.62" y1="335.8" x2="230.62" y2="337.2" stroke="#333333" stroke-width="0.5"/>
<text x="230.62" y="342.9" text-anchor="middle" class="tl">1.0</text>
<line x1="276.37" y1="335.8" x2="276.37" y2="337.2" stroke="#333333" stroke-width="0.5"/>
<text x="276.37" y="342.9" text-anchor="middle" class="tl">1.5</text>
<line x1="322.12" y1="335.8" x2="322.12" y2="337.2" stroke="#333333" stroke-width="0.5"/>
<text x="322.12" y="342.9" text-anchor="middle" class="tl">2.0</text>
<text x="271.75" y="351.45" text-anchor="middle" class="tt">mALFF of Left Amygdala</text>
<text transform="translate(188.5,262.65) rotate(-90)" text-anchor="middle" class="tt">Frequency</text>
</g>
<g>
<rect x="372.5" y="189.5" width="148.5" height="146.3" fill="#ebebeb"/>
<line x1="394.9" y1="189.5" x2="394.9" y2="335.8" stroke="#ffffff" stroke-width="0.3" stroke-opacity="0.6"/>
<line x1="438.07" y1="189.5" x2="438.07" y2="335.8" stroke="#ffffff" stroke-width="0.3" stroke-opacity="0.6"/>
<line x1="481.25" y1="189.5" x2="481.25" y2="335.8" stroke="#ffffff" stroke-width="0.3" stroke-opacity="0.6"/>
<line x1="372.5" y1="312.53" x2="521" y2="312.53" stroke="#ffffff" stroke-width="0.3" stroke-opacity="0.6"/>
<line x1="372.5" y1="279.28" x2="521" y2="279.28" stroke="#ffffff" stroke-width="0.3" stroke-opacity="0.6"/>
<line x1="372.5" y1="246.03" x2="521" y2="246.03" stroke="#ffffff" stroke-width="0.3" stroke-opacity="0.6"/>
<line x1="372.5" y1="212.78" x2="521" y2="212.78" stroke="#ffffff" stroke-width="0.3" stroke-opacity="0.6"/>
<line x1="372.5" y1="329.15" x2="521" y2="329.15" stroke="#ffffff" stroke-width="0.65"/>
<line x1="372.5" y1="295.9" x2="521" y2="295.9" stroke="#ffffff" stroke-width="0.65"/>
<line x1="372.5" y1="262.65" x2="521" y2="262.65" stroke="#ffffff" stroke-width="0.65"/>
<line x1="372.5" y1="229.4" x2="521" y2="229.4" stroke="#ffffff" stroke-width="0.65"/>
<line x1="372.5" y1="196.15" x2="521" y2="196.15" stroke="#ffffff" stroke-width="0.65"/>
<line x1="373.32" y1="189.5" x2="373.32" y2="335.8" stroke="#ffffff" stroke-width="0.65"/>
<line x1="416.49" y1="189.5" x2="416.49" y2="335.8" stroke="#ffffff" stroke-width="0.65"/>
<line x1="459.66" y1="189.5" x2="459.66" y2="335.8" stroke="#ffffff" stroke-width="0.65"/>
<line x1="502.83" y1="189.5" x2="502.83" y2="335.8" stroke="#ffffff" stroke-width="0.65"/>
<rect x="397.25" y="312.53" width="4.5" height="16.62" fill="#59b29a" fill-opacity="0.65" stroke="#e9ecef" stroke-width="0.6"/>
<rect x="401.75" y="312.53" width="4.5" height="16.62" fill="#59b29a" fill-opacity="0.65" stroke="#e9ecef" stroke-width="0.6"/>
<rect x="406.25" y="295.9" width="4.5" height="33.25" fill="#59b29a" fill-opacity="0.65" stroke="#e9ecef" stroke-width="0.6"/>
<rect x="410.75" y="312.53" width="4.5" height="16.62" fill="#59b29a" fill-opacity="0.65" stroke="#e9ecef" stroke-width="0.6"/>
<rect x="415.25" y="262.65" width="4.5" height="66.5" fill="#59b29a" fill-opacity="0.65" stroke="#e9ecef" stroke-width="0.6"/>
<rect x="419.75" y="212.78" width="4.5" height="116.38" fill="#59b29a" fill-opacity="0.65" stroke="#e9ecef" stroke-width="0.6"/>
<rect x="424.25" y="262.65" width="4.5" height="66.5" fill="#59b29a" fill-opacity="0.65" stroke="#e9ecef" stroke-width="0.6"/>
<rect x="428.75" y="262.65" width="4.5" height="66.5" fill="#59b29a" fill-opacity="0.65" stroke="#e9ecef" stroke-width="0.6"/>
<rect x="433.25" y="312.53" width="4.5" height="16.62" fill="#59b29a" fill-opacity="0.65" stroke="#e9ecef" stroke-width="0.6"/>
<rect x="437.75" y="295.9" width="4.5" height="33.25" fill="#59b29a" fill-opacity="0.65" stroke="#e9ecef" stroke-width="0.6"/>
<rect x="455.75" y="312.53" width="4.5" height="16.62" fill="#59b29a" fill-opacity="0.65" stroke="#e9ecef" stroke-width="0.6"/>
<rect x="464.75" y="295.9" width="4.5" height="33.25" fill="#59b29a" fill-opacity="0.65" stroke="#e9ecef" stroke-width="0.6"/>
<rect x="469.25" y="295.9" width="4.5" height="33.25" fill="#59b29a" fill-opacity="0.65" stroke="#e9ecef" stroke-width="0.6"/>
<rect x="473.75" y="312.53" width="4.5" height="16.62" fill="#59b29a" fill-opacity="0.65" stroke="#e9ecef" stroke-width="0.6"/>
<rect x="482.75" y="312.53" width="4.5" height="16.62" fill="#59b29a" fill-opacity="0.65" stroke="#e9ecef" stroke-width="0.6"/>
<rect x="500.75" y="295.9" width="4.5" height="33.25" fill="#59b29a" fill-opacity="0.65" stroke="#e9ecef" stroke-width="0.6"/>
<rect x="509.75" y="312.53" width="4.5" height="16.62" fill="#59b29a" fill-opacity="0.65" stroke="#e9ecef" stroke-width="0.6"/>
<rect x="379.25" y="295.9" width="4.5" height="33.25" fill="#3a2f87" fill-opacity="0.65" stroke="#e9ecef" stroke-width="0.6"/>
<rect x="383.75" y="295.9" width="4.5" height="33.25" fill="#3a2f87" fill-opacity="0.65" stroke="#e9ecef" stroke-width="0.6"/>
<rect x="388.25" y="312.53" width="4.5" height="16.62" fill="#3a2f87" fill-opacity="0.65" stroke="#e9ecef" stroke-width="0.6"/>
<rect x="392.75" y="279.28" width="4.5" height="49.88" fill="#3a2f87" fill-opacity="0.65" stroke="#e9ecef" stroke-width="0.6"/>
<rect x="401.75" y="279.28" width="4.5" height="49.88" fill="#3a2f87" fill-opacity="0.65" stroke="#e9ecef" stroke-width="0.6"/>
<rect x="406.25" y="312.53" width="4.5" height="16.62" fill="#3a2f87" fill-opacity="0.65" stroke="#e9ecef" stroke-width="0.6"/>
<rect x="410.75" y="246.03" width="4.5" height="83.12" fill="#3a2f87" fill-opacity="0.65" stroke="#e9ecef" stroke-width="0.6"/>
<rect x="415.25" y="312.53" width="4.5" height="16.62" fill="#3a2f87" fill-opacity="0.65" stroke="#e9ecef" stroke-width="0.6"/>
<rect x="424.25" y="196.15" width="4.5" height="133" fill="#3a2f87" fill-opacity="0.65" stroke="#e9ecef" stroke-width="0.6"/>
<rect x="428.75" y="279.28" width="4.5" height="49.88" fill="#3a2f87" fill-opacity="0.65" stroke="#e9ecef" stroke-width="0.6"/>
<rect x="433.25" y="262.65" width="4.5" height="66.5" fill="#3a2f87" fill-opacity="0.65" stroke="#e9ecef" stroke-width="0.6"/>
<rect x="437.75" y="312.53" width="4.5" height="16.62" fill="#3a2f87" fill-opacity="0.65" stroke="#e9ecef" stroke-width="0.6"/>
<rect x="442.25" y="212.78" width="4.5" height="116.38" fill="#3a2f87" fill-opacity="0.65" stroke="#e9ecef" stroke-width="0.6"/>
<rect x="446.75" y="295.9" width="4.5" height="33.25" fill="#3a2f87" fill-opacity="0.65" stroke="#e9ecef" stroke-width="0.6"/>
<rect x="451.25" y="246.03" width="4.5" height="83.12" fill="#3a2f87" fill-opacity="0.65" stroke="#e9ecef" stroke-width="0.6"/>
<rect x="455.75" y="295.9" width="4.5" height="33.25" fill="#3a2f87" fill-opacity="0.65" stroke="#e9ecef" stroke-width="0.6"/>
<rect x="460.25" y="312.53" width="4.5" height="16.62" fill="#3a2f87" fill-opacity="0.65" stroke="#e9ecef" stroke-width="0.6"/>
<rect x="464.75" y="295.9" width="4.5" height="33.25" fill="#3a2f87" fill-opacity="0.65" stroke="#e9ecef" stroke-width="0.6"/>
<rect x="469.25" y="312.53" width="4.5" height="16.62" fill="#3a2f87" fill-opacity="0.65" stroke="#e9ecef" stroke-width="0.6"/>
<rect x="473.75" y="295.9" width="4.5" height="33.25" fill="#3a2f87" fill-opacity="0.65" stroke="#e9ecef" stroke-width="0.6"/>
<line x1="371.1" y1="329.15" x2="372.5" y2="329.15" stroke="#333333" stroke-width="0.5"/>
<text x="370.6" y="332.05" text-anchor="end" class="tl">0</text>
<line x1="371.1" y1="295.9" x2="372.5" y2="295.9" stroke="#333333" stroke-width="0.5"/>
<text x="370.6" y="298.8" text-anchor="end" class="tl">2</text>
<line x1="371.1" y1="262.65" x2="372.5" y2="262.65" stroke="#333333" stroke-width="0.5"/>
<text x="370.6" y="265.55" text-anchor="end" class="tl">4</text>
<line x1="371.1" y1="229.4" x2="372.5" y2="229.4" stroke="#333333" stroke-width="0.5"/>
<text x="370.6" y="232.3" text-anchor="end" class="tl">6</text>
<line x1="371.1" y1="196.15" x2="372.5" y2="196.15" stroke="#333333" stroke-width="0.5"/>
<text x="370.6" y="199.05" text-anchor="end" class="tl">8</text>
<line x1="373.32" y1="335.8" x2="373.32" y2="337.2" stroke="#333333" stroke-width="0.5"/>
<text x="373.32" y="342.9" text-anchor="middle" class="tl">0.8</text>
<line x1="416.49" y1="335.8" x2="416.49" y2="337.2" stroke="#333333" stroke-width="0.5"/>
<text x="416.49" y="342.9" text-anchor="middle" class="tl">1.0</text>
<line x1="459.66" y1="335.8" x2="459.66" y2="337.2" stroke="#333333" stroke-width="0.5"/>
<text x="459.66" y="342.9" text-anchor="middle" class="tl">1.2</text>
<line x1="502.83" y1="335.8" x2="502.83" y2="337.2" stroke="#333333" stroke-width="0.5"/>
<text x="502.83" y="342.9" text-anchor="middle" class="tl">1.4</text>
<text x="446.75" y="351.45" text-anchor="middle" class="tt">mReHo of Cingulate Gyrus, anterior</text>
<text transform="translate(363.8,262.65) rotate(-90)" text-anchor="middle" class="tt">Frequency</text>
</g>
<g>
<rect x="19.9" y="373.6" width="149.1" height="146.3" fill="#ebebeb"/>
<line x1="36.17" y1="373.6" x2="36.17" y2="519.9" stroke="#ffffff" stroke-width="0.3" stroke-opacity="0.6"/>
<line x1="66.55" y1="373.6" x2="66.55" y2="519.9" stroke="#ffffff" stroke-width="0.3" stroke-opacity="0.6"/>
<line x1="96.93" y1="373.6" x2="96.93" y2="519.9" stroke="#ffffff" stroke-width="0.3" stroke-opacity="0.6"/>
<line x1="127.31" y1="373.6" x2="127.31" y2="519.9" stroke="#ffffff" stroke-width="0.3" stroke-opacity="0.6"/>
<line x1="157.69" y1="373.6" x2="157.69" y2="519.9" stroke="#ffffff" stroke-width="0.3" stroke-opacity="0.6"/>
<line x1="19.9" y1="494.25" x2="169" y2="494.25" stroke="#ffffff" stroke-width="0.3" stroke-opacity="0.6"/>
<line x1="19.9" y1="456.25" x2="169" y2="456.25" stroke="#ffffff" stroke-width="0.3" stroke-opacity="0.6"/>
<line x1="19.9" y1="418.25" x2="169" y2="418.25" stroke="#ffffff" stroke-width="0.3" stroke-opacity="0.6"/>
<line x1="19.9" y1="380.25" x2="169" y2="380.25" stroke="#ffffff" stroke-width="0.3" stroke-opacity="0.6"/>
<line x1="19.9" y1="513.25" x2="169" y2="513.25" stroke="#ffffff" stroke-width="0.65"/>
<line x1="19.9" y1="475.25" x2="169" y2="475.25" stroke="#ffffff" stroke-width="0.65"/>
<line x1="19.9" y1="437.25" x2="169" y2="437.25" stroke="#ffffff" stroke-width="0.65"/>
<line x1="19.9" y1="399.25" x2="169" y2="399.25" stroke="#ffffff" stroke-width="0.65"/>
<line x1="20.98" y1="373.6" x2="20.98" y2="519.9" stroke="#ffffff" stroke-width="0.65"/>
<line x1="51.36" y1="373.6" x2="51.36" y2="519.9" stroke="#ffffff" stroke-width="0.65"/>
<line x1="81.74" y1="373.6" x2="81.74" y2="519.9" stroke="#ffffff" stroke-width="0.65"/>
<line x1="112.12" y1="373.6" x2="112.12" y2="519.9" stroke="#ffffff" stroke-width="0.65"/>
<line x1="142.5" y1="373.6" x2="142.5" y2="519.9" stroke="#ffffff" stroke-width="0.65"/>
<rect x="26.68" y="494.25" width="4.52" height="19" fill="#59b29a" fill-opacity="0.65" stroke="#e9ecef" stroke-width="0.6"/>
<rect x="53.79" y="437.25" width="4.52" height="76" fill="#59b29a" fill-opacity="0.65" stroke="#e9ecef" stroke-width="0.6"/>
<rect x="58.3" y="494.25" width="4.52" height="19" fill="#59b29a" fill-opacity="0.65" stroke="#e9ecef" stroke-width="0.6"/>
<rect x="62.82" y="456.25" width="4.52" height="57" fill="#59b29a" fill-opacity="0.65" stroke="#e9ecef" stroke-width="0.6"/>
<rect x="67.34" y="475.25" width="4.52" height="38" fill="#59b29a" fill-opacity="0.65" stroke="#e9ecef" stroke-width="0.6"/>
<rect x="71.86" y="456.25" width="4.52" height="57" fill="#59b29a" fill-opacity="0.65" stroke="#e9ecef" stroke-width="0.6"/>
<rect x="76.38" y="475.25" width="4.52" height="38" fill="#59b29a" fill-opacity="0.65" stroke="#e9ecef" stroke-width="0.6"/>
<rect x="80.9" y="399.25" width="4.52" height="114" fill="#59b29a" fill-opacity="0.65" stroke="#e9ecef" stroke-width="0.6"/>
<rect x="89.93" y="475.25" width="4.52" height="38" fill="#59b29a" fill-opacity="0.65" stroke="#e9ecef" stroke-width="0.6"/>
<rect x="94.45" y="494.25" width="4.52" height="19" fill="#59b29a" fill-opacity="0.65" stroke="#e9ecef" stroke-width="0.6"/>
<rect x="98.97" y="456.25" width="4.52" height="57" fill="#59b29a" fill-opacity="0.65" stroke="#e9ecef" stroke-width="0.6"/>
<rect x="103.49" y="456.25" width="4.52" height="57" fill="#59b29a" fill-opacity="0.65" stroke="#e9ecef" stroke-width="0.6"/>
<rect x="117.04" y="475.25" width="4.52" height="38" fill="#59b29a" fill-opacity="0.65" stroke="#e9ecef" stroke-width="0.6"/>
<rect x="121.56" y="494.25" width="4.52" height="19" fill="#59b29a" fill-opacity="0.65" stroke="#e9ecef" stroke-width="0.6"/>
<rect x="130.6" y="494.25" width="4.52" height="19" fill="#59b29a" fill-opacity="0.65" stroke="#e9ecef" stroke-width="0.6"/>
<rect x="135.11" y="494.25" width="4.52" height="19" fill="#59b29a" fill-opacity="0.65" stroke="#e9ecef" stroke-width="0.6"/>
<rect x="139.63" y="494.25" width="4.52" height="19" fill="#59b29a" fill-opacity="0.65" stroke="#e9ecef" stroke-width="0.6"/>
<rect x="49.27" y="456.25" width="4.52" height="57" fill="#3a2f87" fill-opacity="0.65" stroke="#e9ecef" stroke-width="0.6"/>
<rect x="53.79" y="456.25" width="4.52" height="57" fill="#3a2f87" fill-opacity="0.65" stroke="#e9ecef" stroke-width="0.6"/>
<rect x="58.3" y="475.25" width="4.52" height="38" fill="#3a2f87" fill-opacity="0.65" stroke="#e9ecef" stroke-width="0.6"/>
<rect x="62.82" y="399.25" width="4.52" height="114" fill="#3a2f87" fill-opacity="0.65" stroke="#e9ecef" stroke-width="0.6"/>
<rect x="67.34" y="475.25" width="4.52" height="38" fill="#3a2f87" fill-opacity="0.65" stroke="#e9ecef" stroke-width="0.6"/>
<rect x="71.86" y="437.25" width="4.52" height="76" fill="#3a2f87" fill-opacity="0.65" stroke="#e9ecef" stroke-width="0.6"/>
<rect x="76.38" y="475.25" width="4.52" height="38" fill="#3a2f87" fill-opacity="0.65" stroke="#e9ecef" stroke-width="0.6"/>
<rect x="80.9" y="456.25" width="4.52" height="57" fill="#3a2f87" fill-opacity="0.65" stroke="#e9ecef" stroke-width="0.6"/>
<rect x="85.41" y="380.25" width="4.52" height="133" fill="#3a2f87" fill-opacity="0.65" stroke="#e9ecef" stroke-width="0.6"/>
<rect x="89.93" y="494.25" width="4.52" height="19" fill="#3a2f87" fill-opacity="0.65" stroke="#e9ecef" stroke-width="0.6"/>
<rect x="94.45" y="456.25" width="4.52" height="57" fill="#3a2f87" fill-opacity="0.65" stroke="#e9ecef" stroke-width="0.6"/>
<rect x="98.97" y="437.25" width="4.52" height="76" fill="#3a2f87" fill-opacity="0.65" stroke="#e9ecef" stroke-width="0.6"/>
<rect x="103.49" y="475.25" width="4.52" height="38" fill="#3a2f87" fill-opacity="0.65" stroke="#e9ecef" stroke-width="0.6"/>
<rect x="108" y="494.25" width="4.52" height="19" fill="#3a2f87" fill-opacity="0.65" stroke="#e9ecef" stroke-width="0.6"/>
<rect x="112.52" y="475.25" width="4.52" height="38" fill="#3a2f87" fill-opacity="0.65" stroke="#e9ecef" stroke-width="0.6"/>
<rect x="117.04" y="475.25" width="4.52" height="38" fill="#3a2f87" fill-opacity="0.65" stroke="#e9ecef" stroke-width="0.6"/>
<rect x="121.56" y="475.25" width="4.52" height="38" fill="#3a2f87" fill-opacity="0.65" stroke="#e9ecef" stroke-width="0.6"/>
<rect x="126.08" y="475.25" width="4.52" height="38" fill="#3a2f87" fill-opacity="0.65" stroke="#e9ecef" stroke-width="0.6"/>
<rect x="130.6" y="475.25" width="4.52" height="38" fill="#3a2f87" fill-opacity="0.65" stroke="#e9ecef" stroke-width="0.6"/>
<rect x="153.19" y="475.25" width="4.52" height="38" fill="#3a2f87" fill-opacity="0.65" stroke="#e9ecef" stroke-width="0.6"/>
<rect x="157.7" y="494.25" width="4.52" height="19" fill="#3a2f87" fill-opacity="0.65" stroke="#e9ecef" stroke-width="0.6"/>
<line x1="18.5" y1="513.25" x2="19.9" y2="513.25" stroke="#333333" stroke-width="0.5"/>
<text x="18" y="516.15" text-anchor="end" class="tl">0</text>
<line x1="18.5" y1="475.25" x2="19.9" y2="475.25" stroke="#333333" stroke-width="0.5"/>
<text x="18" y="478.15" text-anchor="end" class="tl">2</text>
<line x1="18.5" y1="437.25" x2="19.9" y2="437.25" stroke="#333333" stroke-width="0.5"/>
<text x="18" y="440.15" text-anchor="end" class="tl">4</text>
<line x1="18.5" y1="399.25" x2="19.9" y2="399.25" stroke="#333333" stroke-width="0.5"/>
<text x="18" y="402.15" text-anchor="end" class="tl">6</text>
<line x1="20.98" y1="519.9" x2="20.98" y2="521.3" stroke="#333333" stroke-width="0.5"/>
<text x="20.98" y="527.65" text-anchor="middle" class="tl">0.6</text>
<line x1="51.36" y1="519.9" x2="51.36" y2="521.3" stroke="#333333" stroke-width="0.5"/>
<text x="51.36" y="527.65" text-anchor="middle" class="tl">0.8</text>
<line x1="81.74" y1="519.9" x2="81.74" y2="521.3" stroke="#333333" stroke-width="0.5"/>
<text x="81.74" y="527.65" text-anchor="middle" class="tl">1.0</text>
<line x1="112.12" y1="519.9" x2="112.12" y2="521.3" stroke="#333333" stroke-width="0.5"/>
<text x="112.12" y="527.65" text-anchor="middle" class="tl">1.2</text>
<line x1="142.5" y1="519.9" x2="142.5" y2="521.3" stroke="#333333" stroke-width="0.5"/>
<text x="142.5" y="527.65" text-anchor="middle" class="tl">1.4</text>
<text x="94.45" y="535.7" text-anchor="middle" class="tt">mReHo of Occipital Pole</text>
<text transform="translate(11.2,446.75) rotate(-90)" text-anchor="middle" class="tt">Frequency</text>
</g>
<g>
<rect x="195.6" y="373.6" width="148.7" height="146.3" fill="#ebebeb"/>
<line x1="215.51" y1="373.6" x2="215.51" y2="519.9" stroke="#ffffff" stroke-width="0.3" stroke-opacity="0.6"/>
<line x1="247.61" y1="373.6" x2="247.61" y2="519.9" stroke="#ffffff" stroke-width="0.3" stroke-opacity="0.6"/>
<line x1="279.71" y1="373.6" x2="279.71" y2="519.9" stroke="#ffffff" stroke-width="0.3" stroke-opacity="0.6"/>
<line x1="311.81" y1="373.6" x2="311.81" y2="519.9" stroke="#ffffff" stroke-width="0.3" stroke-opacity="0.6"/>
<line x1="343.91" y1="373.6" x2="343.91" y2="519.9" stroke="#ffffff" stroke-width="0.3" stroke-opacity="0.6"/>
<line x1="195.6" y1="494.25" x2="344.3" y2="494.25" stroke="#ffffff" stroke-width="0.3" stroke-opacity="0.6"/>
<line x1="195.6" y1="456.25" x2="344.3" y2="456.25" stroke="#ffffff" stroke-width="0.3" stroke-opacity="0.6"/>
<line x1="195.6" y1="418.25" x2="344.3" y2="418.25" stroke="#ffffff" stroke-width="0.3" stroke-opacity="0.6"/>
<line x1="195.6" y1="380.25" x2="344.3" y2="380.25" stroke="#ffffff" stroke-width="0.3" stroke-opacity="0.6"/>
<line x1="195.6" y1="513.25" x2="344.3" y2="513.25" stroke="#ffffff" stroke-width="0.65"/>
<line x1="195.6" y1="475.25" x2="344.3" y2="475.25" stroke="#ffffff" stroke-width="0.65"/>
<line x1="195.6" y1="437.25" x2="344.3" y2="437.25" stroke="#ffffff" stroke-width="0.65"/>
<line x1="195.6" y1="399.25" x2="344.3" y2="399.25" stroke="#ffffff" stroke-width="0.65"/>
<line x1="199.46" y1="373.6" x2="199.46" y2="519.9" stroke="#ffffff" stroke-width="0.65"/>
<line x1="231.56" y1="373.6" x2="231.56" y2="519.9" stroke="#ffffff" stroke-width="0.65"/>
<line x1="263.66" y1="373.6" x2="263.66" y2="519.9" stroke="#ffffff" stroke-width="0.65"/>
<line x1="295.76" y1="373.6" x2="295.76" y2="519.9" stroke="#ffffff" stroke-width="0.65"/>
<line x1="327.86" y1="373.6" x2="327.86" y2="519.9" stroke="#ffffff" stroke-width="0.65"/>
<rect x="202.36" y="494.25" width="4.51" height="19" fill="#59b29a" fill-opacity="0.65" stroke="#e9ecef" stroke-width="0.6"/>
<rect x="211.37" y="494.25" width="4.51" height="19" fill="#59b29a" fill-opacity="0.65" stroke="#e9ecef" stroke-width="0.6"/>
<rect x="224.89" y="494.25" width="4.51" height="19" fill="#59b29a" fill-opacity="0.65" stroke="#e9ecef" stroke-width="0.6"/>
<rect x="229.4" y="494.25" width="4.51" height="19" fill="#59b29a" fill-opacity="0.65" stroke="#e9ecef" stroke-width="0.6"/>
<rect x="233.9" y="494.25" width="4.51" height="19" fill="#59b29a" fill-opacity="0.65" stroke="#e9ecef" stroke-width="0.6"/>
<rect x="238.41" y="456.25" width="4.51" height="57" fill="#59b29a" fill-opacity="0.65" stroke="#e9ecef" stroke-width="0.6"/>
<rect x="242.91" y="475.25" width="4.51" height="38" fill="#59b29a" fill-opacity="0.65" stroke="#e9ecef" stroke-width="0.6"/>
<rect x="247.42" y="437.25" width="4.51" height="76" fill="#59b29a" fill-opacity="0.65" stroke="#e9ecef" stroke-width="0.6"/>
<rect x="251.93" y="456.25" width="4.51" height="57" fill="#59b29a" fill-opacity="0.65" stroke="#e9ecef" stroke-width="0.6"/>
<rect x="256.43" y="475.25" width="4.51" height="38" fill="#59b29a" fill-opacity="0.65" stroke="#e9ecef" stroke-width="0.6"/>
<rect x="260.94" y="494.25" width="4.51" height="19" fill="#59b29a" fill-opacity="0.65" stroke="#e9ecef" stroke-width="0.6"/>
<rect x="265.44" y="437.25" width="4.51" height="76" fill="#59b29a" fill-opacity="0.65" stroke="#e9ecef" stroke-width="0.6"/>
<rect x="274.46" y="475.25" width="4.51" height="38" fill="#59b29a" fill-opacity="0.65" stroke="#e9ecef" stroke-width="0.6"/>
<rect x="278.96" y="494.25" width="4.51" height="19" fill="#59b29a" fill-opacity="0.65" stroke="#e9ecef" stroke-width="0.6"/>
<rect x="283.47" y="475.25" width="4.51" height="38" fill="#59b29a" fill-opacity="0.65" stroke="#e9ecef" stroke-width="0.6"/>
<rect x="287.97" y="494.25" width="4.51" height="19" fill="#59b29a" fill-opacity="0.65" stroke="#e9ecef" stroke-width="0.6"/>
<rect x="301.49" y="475.25" width="4.51" height="38" fill="#59b29a" fill-opacity="0.65" stroke="#e9ecef" stroke-width="0.6"/>
<rect x="306" y="475.25" width="4.51" height="38" fill="#59b29a" fill-opacity="0.65" stroke="#e9ecef" stroke-width="0.6"/>
<rect x="315.01" y="494.25" width="4.51" height="19" fill="#59b29a" fill-opacity="0.65" stroke="#e9ecef" stroke-width="0.6"/>
<rect x="333.03" y="475.25" width="4.51" height="38" fill="#59b29a" fill-opacity="0.65" stroke="#e9ecef" stroke-width="0.6"/>
<rect x="211.37" y="494.25" width="4.51" height="19" fill="#3a2f87" fill-opacity="0.65" stroke="#e9ecef" stroke-width="0.6"/>
<rect x="220.38" y="494.25" width="4.51" height="19" fill="#3a2f87" fill-opacity="0.65" stroke="#e9ecef" stroke-width="0.6"/>
<rect x="224.89" y="494.25" width="4.51" height="19" fill="#3a2f87" fill-opacity="0.65" stroke="#e9ecef" stroke-width="0.6"/>
<rect x="238.41" y="475.25" width="4.51" height="38" fill="#3a2f87" fill-opacity="0.65" stroke="#e9ecef" stroke-width="0.6"/>
<rect x="242.91" y="475.25" width="4.51" height="38" fill="#3a2f87" fill-opacity="0.65" stroke="#e9ecef" stroke-width="0.6"/>
<rect x="247.42" y="456.25" width="4.51" height="57" fill="#3a2f87" fill-opacity="0.65" stroke="#e9ecef" stroke-width="0.6"/>
<rect x="251.93" y="418.25" width="4.51" height="95" fill="#3a2f87" fill-opacity="0.65" stroke="#e9ecef" stroke-width="0.6"/>
<rect x="256.43" y="456.25" width="4.51" height="57" fill="#3a2f87" fill-opacity="0.65" stroke="#e9ecef" stroke-width="0.6"/>
<rect x="260.94" y="456.25" width="4.51" height="57" fill="#3a2f87" fill-opacity="0.65" stroke="#e9ecef" stroke-width="0.6"/>
<rect x="265.44" y="380.25" width="4.51" height="133" fill="#3a2f87" fill-opacity="0.65" stroke="#e9ecef" stroke-width="0.6"/>
<rect x="269.95" y="475.25" width="4.51" height="38" fill="#3a2f87" fill-opacity="0.65" stroke="#e9ecef" stroke-width="0.6"/>
<rect x="274.46" y="418.25" width="4.51" height="95" fill="#3a2f87" fill-opacity="0.65" stroke="#e9ecef" stroke-width="0.6"/>
<rect x="278.96" y="456.25" width="4.51" height="57" fill="#3a2f87" fill-opacity="0.65" stroke="#e9ecef" stroke-width="0.6"/>
<rect x="287.97" y="494.25" width="4.51" height="19" fill="#3a2f87" fill-opacity="0.65" stroke="#e9ecef" stroke-width="0.6"/>
<rect x="292.48" y="437.25" width="4.51" height="76" fill="#3a2f87" fill-opacity="0.65" stroke="#e9ecef" stroke-width="0.6"/>
<rect x="296.99" y="418.25" width="4.51" height="95" fill="#3a2f87" fill-opacity="0.65" stroke="#e9ecef" stroke-width="0.6"/>
<rect x="301.49" y="494.25" width="4.51" height="19" fill="#3a2f87" fill-opacity="0.65" stroke="#e9ecef" stroke-width="0.6"/>
<rect x="306" y="475.25" width="4.51" height="38" fill="#3a2f87" fill-opacity="0.65" stroke="#e9ecef" stroke-width="0.6"/>
<rect x="310.5" y="494.25" width="4.51" height="19" fill="#3a2f87" fill-opacity="0.65" stroke="#e9ecef" stroke-width="0.6"/>
<rect x="315.01" y="494.25" width="4.51" height="19" fill="#3a2f87" fill-opacity="0.65" stroke="#e9ecef" stroke-width="0.6"/>
<rect x="319.52" y="475.25" width="4.51" height="38" fill="#3a2f87" fill-opacity="0.65" stroke="#e9ecef" stroke-width="0.6"/>
<rect x="328.53" y="494.25" width="4.51" height="19" fill="#3a2f87" fill-opacity="0.65" stroke="#e9ecef" stroke-width="0.6"/>
<line x1="194.2" y1="513.25" x2="195.6" y2="513.25" stroke="#333333" stroke-width="0.5"/>
<text x="193.7" y="516.15" text-anchor="end" class="tl">0</text>
<line x1="194.2" y1="475.25" x2="195.6" y2="475.25" stroke="#333333" stroke-width="0.5"/>
<text x="193.7" y="478.15" text-anchor="end" class="tl">2</text>
<line x1="194.2" y1="437.25" x2="195.6" y2="437.25" stroke="#333333" stroke-width="0.5"/>
<text x="193.7" y="440.15" text-anchor="end" class="tl">4</text>
<line x1="194.2" y1="399.25" x2="195.6" y2="399.25" stroke="#333333" stroke-width="0.5"/>
<text x="193.7" y="402.15" text-anchor="end" class="tl">6</text>
<line x1="199.46" y1="519.9" x2="199.46" y2="521.3" stroke="#333333" stroke-width="0.5"/>
<text x="199.46" y="527.65" text-anchor="middle" class="tl">−0.1</text>
<line x1="231.56" y1="519.9" x2="231.56" y2="521.3" stroke="#333333" stroke-width="0.5"/>
<text x="231.56" y="527.65" text-anchor="middle" class="tl">0.0</text>
<line x1="263.66" y1="519.9" x2="263.66" y2="521.3" stroke="#333333" stroke-width="0.5"/>
<text x="263.66" y="527.65" text-anchor="middle" class="tl">0.1</text>
<line x1="295.76" y1="519.9" x2="295.76" y2="521.3" stroke="#333333" stroke-width="0.5"/>
<text x="295.76" y="527.65" text-anchor="middle" class="tl">0.2</text>
<line x1="327.86" y1="519.9" x2="327.86" y2="521.3" stroke="#333333" stroke-width="0.5"/>
<text x="327.86" y="527.65" text-anchor="middle" class="tl">0.3</text>
<text x="269.95" y="535.7" text-anchor="middle" class="tt">VHMC of Inferior Temporal Gyrus, posterior</text>
<text transform="translate(186.9,446.75) rotate(-90)" text-anchor="middle" class="tt">Frequency</text>
</g>
<g>
<rect x="370.6" y="373.6" width="148.4" height="146.3" fill="#ebebeb"/>
<line x1="379.51" y1="373.6" x2="379.51" y2="519.9" stroke="#ffffff" stroke-width="0.3" stroke-opacity="0.6"/>
<line x1="406.32" y1="373.6" x2="406.32" y2="519.9" stroke="#ffffff" stroke-width="0.3" stroke-opacity="0.6"/>
<line x1="433.13" y1="373.6" x2="433.13" y2="519.9" stroke="#ffffff" stroke-width="0.3" stroke-opacity="0.6"/>
<line x1="459.94" y1="373.6" x2="459.94" y2="519.9" stroke="#ffffff" stroke-width="0.3" stroke-opacity="0.6"/>
<line x1="486.75" y1="373.6" x2="486.75" y2="519.9" stroke="#ffffff" stroke-width="0.3" stroke-opacity="0.6"/>
<line x1="513.56" y1="373.6" x2="513.56" y2="519.9" stroke="#ffffff" stroke-width="0.3" stroke-opacity="0.6"/>
<line x1="370.6" y1="491.08" x2="519" y2="491.08" stroke="#ffffff" stroke-width="0.3" stroke-opacity="0.6"/>
<line x1="370.6" y1="446.75" x2="519" y2="446.75" stroke="#ffffff" stroke-width="0.3" stroke-opacity="0.6"/>
<line x1="370.6" y1="402.42" x2="519" y2="402.42" stroke="#ffffff" stroke-width="0.3" stroke-opacity="0.6"/>
<line x1="370.6" y1="513.25" x2="519" y2="513.25" stroke="#ffffff" stroke-width="0.65"/>
<line x1="370.6" y1="468.92" x2="519" y2="468.92" stroke="#ffffff" stroke-width="0.65"/>
<line x1="370.6" y1="424.58" x2="519" y2="424.58" stroke="#ffffff" stroke-width="0.65"/>
<line x1="370.6" y1="380.25" x2="519" y2="380.25" stroke="#ffffff" stroke-width="0.65"/>
<line x1="392.92" y1="373.6" x2="392.92" y2="519.9" stroke="#ffffff" stroke-width="0.65"/>
<line x1="419.73" y1="373.6" x2="419.73" y2="519.9" stroke="#ffffff" stroke-width="0.65"/>
<line x1="446.54" y1="373.6" x2="446.54" y2="519.9" stroke="#ffffff" stroke-width="0.65"/>
<line x1="473.35" y1="373.6" x2="473.35" y2="519.9" stroke="#ffffff" stroke-width="0.65"/>
<line x1="500.16" y1="373.6" x2="500.16" y2="519.9" stroke="#ffffff" stroke-width="0.65"/>
<rect x="377.35" y="491.08" width="4.5" height="22.17" fill="#59b29a" fill-opacity="0.65" stroke="#e9ecef" stroke-width="0.6"/>
<rect x="408.82" y="491.08" width="4.5" height="22.17" fill="#59b29a" fill-opacity="0.65" stroke="#e9ecef" stroke-width="0.6"/>
<rect x="413.32" y="468.92" width="4.5" height="44.33" fill="#59b29a" fill-opacity="0.65" stroke="#e9ecef" stroke-width="0.6"/>
<rect x="417.82" y="468.92" width="4.5" height="44.33" fill="#59b29a" fill-opacity="0.65" stroke="#e9ecef" stroke-width="0.6"/>
<rect x="431.31" y="468.92" width="4.5" height="44.33" fill="#59b29a" fill-opacity="0.65" stroke="#e9ecef" stroke-width="0.6"/>
<rect x="444.8" y="491.08" width="4.5" height="22.17" fill="#59b29a" fill-opacity="0.65" stroke="#e9ecef" stroke-width="0.6"/>
<rect x="453.79" y="468.92" width="4.5" height="44.33" fill="#59b29a" fill-opacity="0.65" stroke="#e9ecef" stroke-width="0.6"/>
<rect x="458.29" y="402.42" width="4.5" height="110.83" fill="#59b29a" fill-opacity="0.65" stroke="#e9ecef" stroke-width="0.6"/>
<rect x="462.79" y="468.92" width="4.5" height="44.33" fill="#59b29a" fill-opacity="0.65" stroke="#e9ecef" stroke-width="0.6"/>
<rect x="467.28" y="402.42" width="4.5" height="110.83" fill="#59b29a" fill-opacity="0.65" stroke="#e9ecef" stroke-width="0.6"/>
<rect x="471.78" y="446.75" width="4.5" height="66.5" fill="#59b29a" fill-opacity="0.65" stroke="#e9ecef" stroke-width="0.6"/>
<rect x="476.28" y="468.92" width="4.5" height="44.33" fill="#59b29a" fill-opacity="0.65" stroke="#e9ecef" stroke-width="0.6"/>
<rect x="480.78" y="468.92" width="4.5" height="44.33" fill="#59b29a" fill-opacity="0.65" stroke="#e9ecef" stroke-width="0.6"/>
<rect x="485.27" y="491.08" width="4.5" height="22.17" fill="#59b29a" fill-opacity="0.65" stroke="#e9ecef" stroke-width="0.6"/>
<rect x="489.77" y="468.92" width="4.5" height="44.33" fill="#59b29a" fill-opacity="0.65" stroke="#e9ecef" stroke-width="0.6"/>
<rect x="494.27" y="491.08" width="4.5" height="22.17" fill="#59b29a" fill-opacity="0.65" stroke="#e9ecef" stroke-width="0.6"/>
<rect x="498.76" y="446.75" width="4.5" height="66.5" fill="#59b29a" fill-opacity="0.65" stroke="#e9ecef" stroke-width="0.6"/>
<rect x="390.84" y="491.08" width="4.5" height="22.17" fill="#3a2f87" fill-opacity="0.65" stroke="#e9ecef" stroke-width="0.6"/>
<rect x="395.33" y="491.08" width="4.5" height="22.17" fill="#3a2f87" fill-opacity="0.65" stroke="#e9ecef" stroke-width="0.6"/>
<rect x="408.82" y="468.92" width="4.5" height="44.33" fill="#3a2f87" fill-opacity="0.65" stroke="#e9ecef" stroke-width="0.6"/>
<rect x="413.32" y="468.92" width="4.5" height="44.33" fill="#3a2f87" fill-opacity="0.65" stroke="#e9ecef" stroke-width="0.6"/>
<rect x="417.82" y="468.92" width="4.5" height="44.33" fill="#3a2f87" fill-opacity="0.65" stroke="#e9ecef" stroke-width="0.6"/>
<rect x="422.32" y="468.92" width="4.5" height="44.33" fill="#3a2f87" fill-opacity="0.65" stroke="#e9ecef" stroke-width="0.6"/>
<rect x="426.81" y="424.58" width="4.5" height="88.67" fill="#3a2f87" fill-opacity="0.65" stroke="#e9ecef" stroke-width="0.6"/>
<rect x="435.81" y="380.25" width="4.5" height="133" fill="#3a2f87" fill-opacity="0.65" stroke="#e9ecef" stroke-width="0.6"/>
<rect x="440.3" y="402.42" width="4.5" height="110.83" fill="#3a2f87" fill-opacity="0.65" stroke="#e9ecef" stroke-width="0.6"/>
<rect x="444.8" y="424.58" width="4.5" height="88.67" fill="#3a2f87" fill-opacity="0.65" stroke="#e9ecef" stroke-width="0.6"/>
<rect x="449.3" y="424.58" width="4.5" height="88.67" fill="#3a2f87" fill-opacity="0.65" stroke="#e9ecef" stroke-width="0.6"/>
<rect x="453.79" y="446.75" width="4.5" height="66.5" fill="#3a2f87" fill-opacity="0.65" stroke="#e9ecef" stroke-width="0.6"/>
<rect x="458.29" y="468.92" width="4.5" height="44.33" fill="#3a2f87" fill-opacity="0.65" stroke="#e9ecef" stroke-width="0.6"/>
<rect x="462.79" y="424.58" width="4.5" height="88.67" fill="#3a2f87" fill-opacity="0.65" stroke="#e9ecef" stroke-width="0.6"/>
<rect x="467.28" y="446.75" width="4.5" height="66.5" fill="#3a2f87" fill-opacity="0.65" stroke="#e9ecef" stroke-width="0.6"/>
<rect x="471.78" y="468.92" width="4.5" height="44.33" fill="#3a2f87" fill-opacity="0.65" stroke="#e9ecef" stroke-width="0.6"/>
<rect x="476.28" y="446.75" width="4.5" height="66.5" fill="#3a2f87" fill-opacity="0.65" stroke="#e9ecef" stroke-width="0.6"/>
<rect x="480.78" y="491.08" width="4.5" height="22.17" fill="#3a2f87" fill-opacity="0.65" stroke="#e9ecef" stroke-width="0.6"/>
<rect x="485.27" y="491.08" width="4.5" height="22.17" fill="#3a2f87" fill-opacity="0.65" stroke="#e9ecef" stroke-width="0.6"/>
<rect x="489.77" y="491.08" width="4.5" height="22.17" fill="#3a2f87" fill-opacity="0.65" stroke="#e9ecef" stroke-width="0.6"/>
<rect x="494.27" y="491.08" width="4.5" height="22.17" fill="#3a2f87" fill-opacity="0.65" stroke="#e9ecef" stroke-width="0.6"/>
<rect x="503.26" y="491.08" width="4.5" height="22.17" fill="#3a2f87" fill-opacity="0.65" stroke="#e9ecef" stroke-width="0.6"/>
<rect x="507.76" y="491.08" width="4.5" height="22.17" fill="#3a2f87" fill-opacity="0.65" stroke="#e9ecef" stroke-width="0.6"/>
<line x1="369.2" y1="513.25" x2="370.6" y2="513.25" stroke="#333333" stroke-width="0.5"/>
<text x="368.7" y="516.15" text-anchor="end" class="tl">0</text>
<line x1="369.2" y1="468.92" x2="370.6" y2="468.92" stroke="#333333" stroke-width="0.5"/>
<text x="368.7" y="471.82" text-anchor="end" class="tl">2</text>
<line x1="369.2" y1="424.58" x2="370.6" y2="424.58" stroke="#333333" stroke-width="0.5"/>
<text x="368.7" y="427.48" text-anchor="end" class="tl">4</text>
<line x1="369.2" y1="380.25" x2="370.6" y2="380.25" stroke="#333333" stroke-width="0.5"/>
<text x="368.7" y="383.15" text-anchor="end" class="tl">6</text>
<line x1="392.92" y1="519.9" x2="392.92" y2="521.3" stroke="#333333" stroke-width="0.5"/>
<text x="392.92" y="527.65" text-anchor="middle" class="tl">0.2</text>
<line x1="419.73" y1="519.9" x2="419.73" y2="521.3" stroke="#333333" stroke-width="0.5"/>
<text x="419.73" y="527.65" text-anchor="middle" class="tl">0.3</text>
<line x1="446.54" y1="519.9" x2="446.54" y2="521.3" stroke="#333333" stroke-width="0.5"/>
<text x="446.54" y="527.65" text-anchor="middle" class="tl">0.4</text>
<line x1="473.35" y1="519.9" x2="473.35" y2="521.3" stroke="#333333" stroke-width="0.5"/>
<text x="473.35" y="527.65" text-anchor="middle" class="tl">0.5</text>
<line x1="500.16" y1="519.9" x2="500.16" y2="521.3" stroke="#333333" stroke-width="0.5"/>
<text x="500.16" y="527.65" text-anchor="middle" class="tl">0.6</text>
<text x="444.8" y="535.7" text-anchor="middle" class="tt">VHMC of Juxtapositional Lobule Cortex</text>
<text transform="translate(361.9,446.75) rotate(-90)" text-anchor="middle" class="tt">Frequency</text>
</g>
<rect x="525.6" y="73.7" width="6.8" height="14.8" fill="#f2f2f2"/>
<rect x="526" y="74.1" width="6" height="6.45" fill="#59b29a" fill-opacity="0.65"/>
<rect x="526" y="81.65" width="6" height="6.45" fill="#3a2f87" fill-opacity="0.65"/>
<text x="534.7" y="80.62" class="lg">HC</text>
<text x="534.7" y="88.17" class="lg">PD</text>
<rect x="527.5" y="258.4" width="6.8" height="14.8" fill="#f2f2f2"/>
<rect x="527.9" y="258.8" width="6" height="6.45" fill="#59b29a" fill-opacity="0.65"/>
<rect x="527.9" y="266.35" width="6" height="6.45" fill="#3a2f87" fill-opacity="0.65"/>
<text x="536.6" y="265.33" class="lg">HC</text>
<text x="536.6" y="272.88" class="lg">PD</text>
<rect x="525.6" y="442.4" width="6.8" height="14.8" fill="#f2f2f2"/>
<rect x="526" y="442.8" width="6" height="6.45" fill="#59b29a" fill-opacity="0.65"/>
<rect x="526" y="450.35" width="6" height="6.45" fill="#3a2f87" fill-opacity="0.65"/>
<text x="534.7" y="449.33" class="lg">HC</text>
<text x="534.7" y="456.88" class="lg">PD</text>
</svg></div>
</body></html>
